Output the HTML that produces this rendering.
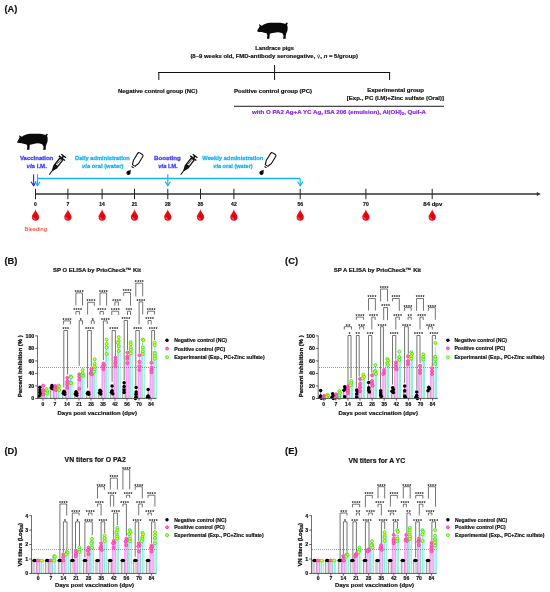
<!DOCTYPE html>
<html lang="en"><head><meta charset="utf-8"><title>Figure</title>
<style>html,body{margin:0;padding:0;background:#fff;}body{overflow:hidden;}svg{display:block;}text{font-family:"Liberation Sans", Arial, sans-serif;}</style></head><body>
<svg width="550" height="592" viewBox="0 0 550 592">
<defs><radialGradient id="bd" cx="0.55" cy="0.62" r="0.6"><stop offset="0" stop-color="#c8000e"/><stop offset="0.55" stop-color="#ee0a14"/><stop offset="1" stop-color="#ff1c1c"/></radialGradient></defs>
<rect width="550" height="592" fill="#fff"/>
<text x="4.50" y="12.20" font-size="9.3" font-weight="bold" text-anchor="start" fill="#111" stroke="#111" stroke-width="0.18" >(A)</text>
<path d="M0,25.4 L4,19 L7.5,13 L5.4,5.2 L10,8 L15,10.7 C19,8 23,5.8 26.9,4.3 C32,2 37,1 41.8,0.9 L74.6,0.9 C81,1.2 87,3 91,5.2 L95.5,0.6 L100,2.3 L97,8 C98.5,10 99,12 99,14.4 C99.6,18 99.2,22 98.5,26 C98,29 96.8,31 95.5,33.2 L93,41.9 L93,52 L84,52 L86,43.3 L82,34.7 C77,32.5 71,31.4 65.7,31.2 C59,31.5 52,33 46.3,34.7 L40.9,36.1 L39.4,52 L31.3,52 L32.8,41.9 L30.7,34.7 C25,33.8 20,32.3 14.9,30.9 L6,30.3 L0.6,29.5 Z" fill="#0a0a0a" transform="translate(257.3,22.4) scale(0.3060,0.3135)"/>
<text x="255.30" y="49.72" font-size="5.9" font-weight="bold" text-anchor="start" fill="#111" stroke="#111" stroke-width="0.18" textLength="38.70" lengthAdjust="spacingAndGlyphs" >Landrace pigs</text>
<text x="190.40" y="58.02" font-size="5.9" font-weight="bold" text-anchor="start" fill="#111" stroke="#111" stroke-width="0.18" textLength="167.50" lengthAdjust="spacingAndGlyphs" >(8–9 weeks old, FMD-antibody seronegative, <tspan font-family="DejaVu Sans, sans-serif" font-size="4.6" font-weight="normal" stroke-width="0.1">♀</tspan>, <tspan font-style="italic">n</tspan> = 5/group)</text>
<line x1="274.60" y1="65.00" x2="274.60" y2="80.00" stroke="#111" stroke-width="1.0" />
<line x1="158.30" y1="72.50" x2="390.10" y2="72.50" stroke="#111" stroke-width="1.0" />
<line x1="158.80" y1="72.00" x2="158.80" y2="80.00" stroke="#111" stroke-width="1.0" />
<line x1="389.60" y1="72.00" x2="389.60" y2="80.00" stroke="#111" stroke-width="1.0" />
<text x="118.00" y="93.42" font-size="5.9" font-weight="bold" text-anchor="start" fill="#111" stroke="#111" stroke-width="0.18" textLength="79.40" lengthAdjust="spacingAndGlyphs" >Negative control group (NC)</text>
<text x="234.00" y="93.12" font-size="5.9" font-weight="bold" text-anchor="start" fill="#111" stroke="#111" stroke-width="0.18" textLength="78.00" lengthAdjust="spacingAndGlyphs" >Positive control group (PC)</text>
<text x="367.20" y="92.12" font-size="5.9" font-weight="bold" text-anchor="start" fill="#111" stroke="#111" stroke-width="0.18" textLength="56.80" lengthAdjust="spacingAndGlyphs" >Experimental group</text>
<text x="346.80" y="100.22" font-size="5.9" font-weight="bold" text-anchor="start" fill="#111" stroke="#111" stroke-width="0.18" textLength="97.20" lengthAdjust="spacingAndGlyphs" >[Exp., PC (I.M)+Zinc sulfate (Oral)]</text>
<line x1="234.00" y1="106.30" x2="444.00" y2="106.30" stroke="#000" stroke-width="0.9" />
<text x="252.00" y="114.05" font-size="5.7" font-weight="bold" text-anchor="start" fill="#8a1cf0" stroke="#8a1cf0" stroke-width="0.18" textLength="174.00" lengthAdjust="spacingAndGlyphs" >with O PA2 Ag+A YC Ag, ISA 206 (emulsion), Al(OH)<tspan font-size="3.8" dy="1">3</tspan><tspan dy="-1">, Quil-A</tspan></text>
<path d="M0,25.4 L4,19 L7.5,13 L5.4,5.2 L10,8 L15,10.7 C19,8 23,5.8 26.9,4.3 C32,2 37,1 41.8,0.9 L74.6,0.9 C81,1.2 87,3 91,5.2 L95.5,0.6 L100,2.3 L97,8 C98.5,10 99,12 99,14.4 C99.6,18 99.2,22 98.5,26 C98,29 96.8,31 95.5,33.2 L93,41.9 L93,52 L84,52 L86,43.3 L82,34.7 C77,32.5 71,31.4 65.7,31.2 C59,31.5 52,33 46.3,34.7 L40.9,36.1 L39.4,52 L31.3,52 L32.8,41.9 L30.7,34.7 C25,33.8 20,32.3 14.9,30.9 L6,30.3 L0.6,29.5 Z" fill="#0a0a0a" transform="translate(17.3,133.5) scale(0.3060,0.3135)"/>
<text x="19.90" y="160.16" font-size="6.0" font-weight="bold" text-anchor="start" fill="#4040ff" stroke="#4040ff" stroke-width="0.28" textLength="33.40" lengthAdjust="spacingAndGlyphs" >Vaccination</text>
<text x="26.50" y="167.96" font-size="6.0" font-weight="bold" text-anchor="start" fill="#4040ff" stroke="#4040ff" stroke-width="0.28" textLength="20.40" lengthAdjust="spacingAndGlyphs" ><tspan font-style="italic">via</tspan> I.M.</text>
<g transform="translate(49.2,174.7) rotate(-52.3)" fill="#0a0a0a" stroke="none"><rect x="0" y="-0.5" width="7" height="1.0"/><path d="M5.2,-0.5 L9.6,-2.4 L9.6,2.4 L5.2,0.5 Z"/><rect x="9.4" y="-2.4" width="11" height="4.8" rx="0.3"/><rect x="12.2" y="-1.1" width="7.0" height="2.2" fill="#fff"/><rect x="13.2" y="-1.1" width="0.7" height="1.4"/><rect x="14.8" y="-1.1" width="0.7" height="1.4"/><rect x="16.4" y="-1.1" width="0.7" height="1.4"/><rect x="18.0" y="-1.1" width="0.7" height="1.4"/><rect x="20.2" y="-3.8" width="1.3" height="7.6"/><rect x="21.3" y="-0.85" width="2" height="1.7"/><rect x="23.0" y="-2.9" width="1.35" height="5.8"/></g>
<text x="75.00" y="160.16" font-size="6.0" font-weight="bold" text-anchor="start" fill="#16b4f2" stroke="#16b4f2" stroke-width="0.28" textLength="54.80" lengthAdjust="spacingAndGlyphs" >Daily administration</text>
<text x="82.00" y="167.96" font-size="6.0" font-weight="bold" text-anchor="start" fill="#16b4f2" stroke="#16b4f2" stroke-width="0.28" textLength="41.40" lengthAdjust="spacingAndGlyphs" ><tspan font-style="italic">via</tspan> oral (water)</text>
<g transform="translate(133.7,165.5) rotate(-58)" fill="#fff" stroke="#0a0a0a" stroke-width="1.05" stroke-linejoin="round"><path d="M0,-1.6 L0.3,-1.7 C2,-1.9 3.5,-3 4.6,-3 L12.4,-3 Q13.9,-3 13.9,-1.5 L13.9,1.5 Q13.9,3 12.4,3 L4.6,3 C3.5,3 2,1.9 0.3,1.7 L0,1.6 Z"/><rect x="-2.5" y="-1.3" width="1.0" height="2.6" fill="#0a0a0a" stroke="none"/></g>
<g transform="translate(128.8,172.4) rotate(38)"><path d="M0,-3.4 C0.4,-1.8 2.1,-1.0 2.1,0.5 A2.1,2.1 0 1 1 -2.1,0.5 C-2.1,-1.0 -0.4,-1.8 0,-3.4 Z" fill="#0a0a0a"/></g>
<text x="154.00" y="160.16" font-size="6.0" font-weight="bold" text-anchor="start" fill="#4040ff" stroke="#4040ff" stroke-width="0.28" textLength="26.70" lengthAdjust="spacingAndGlyphs" >Boosting</text>
<text x="158.30" y="167.96" font-size="6.0" font-weight="bold" text-anchor="start" fill="#4040ff" stroke="#4040ff" stroke-width="0.28" textLength="19.40" lengthAdjust="spacingAndGlyphs" ><tspan font-style="italic">via</tspan> I.M.</text>
<g transform="translate(180.6,174.7) rotate(-52.3)" fill="#0a0a0a" stroke="none"><rect x="0" y="-0.5" width="7" height="1.0"/><path d="M5.2,-0.5 L9.6,-2.4 L9.6,2.4 L5.2,0.5 Z"/><rect x="9.4" y="-2.4" width="11" height="4.8" rx="0.3"/><rect x="12.2" y="-1.1" width="7.0" height="2.2" fill="#fff"/><rect x="13.2" y="-1.1" width="0.7" height="1.4"/><rect x="14.8" y="-1.1" width="0.7" height="1.4"/><rect x="16.4" y="-1.1" width="0.7" height="1.4"/><rect x="18.0" y="-1.1" width="0.7" height="1.4"/><rect x="20.2" y="-3.8" width="1.3" height="7.6"/><rect x="21.3" y="-0.85" width="2" height="1.7"/><rect x="23.0" y="-2.9" width="1.35" height="5.8"/></g>
<text x="202.30" y="160.16" font-size="6.0" font-weight="bold" text-anchor="start" fill="#16b4f2" stroke="#16b4f2" stroke-width="0.28" textLength="61.10" lengthAdjust="spacingAndGlyphs" >Weekly administration</text>
<text x="213.30" y="167.96" font-size="6.0" font-weight="bold" text-anchor="start" fill="#16b4f2" stroke="#16b4f2" stroke-width="0.28" textLength="39.40" lengthAdjust="spacingAndGlyphs" ><tspan font-style="italic">via</tspan> oral (water)</text>
<g transform="translate(266.6,165.5) rotate(-58)" fill="#fff" stroke="#0a0a0a" stroke-width="1.05" stroke-linejoin="round"><path d="M0,-1.6 L0.3,-1.7 C2,-1.9 3.5,-3 4.6,-3 L12.4,-3 Q13.9,-3 13.9,-1.5 L13.9,1.5 Q13.9,3 12.4,3 L4.6,3 C3.5,3 2,1.9 0.3,1.7 L0,1.6 Z"/><rect x="-2.5" y="-1.3" width="1.0" height="2.6" fill="#0a0a0a" stroke="none"/></g>
<g transform="translate(261.8,172.4) rotate(38)"><path d="M0,-3.4 C0.4,-1.8 2.1,-1.0 2.1,0.5 A2.1,2.1 0 1 1 -2.1,0.5 C-2.1,-1.0 -0.4,-1.8 0,-3.4 Z" fill="#0a0a0a"/></g>
<line x1="33.60" y1="174.20" x2="33.60" y2="186.00" stroke="#2a2aff" stroke-width="1.15" />
<path d="M31.30,182.10 L33.60,185.70 L35.90,182.10" fill="none" stroke="#2a2aff" stroke-width="1.15" stroke-linecap="round"/>
<line x1="37.50" y1="174.20" x2="37.50" y2="186.00" stroke="#16b4f2" stroke-width="1.15" />
<path d="M35.20,182.10 L37.50,185.70 L39.80,182.10" fill="none" stroke="#16b4f2" stroke-width="1.15" stroke-linecap="round"/>
<line x1="37.50" y1="178.40" x2="300.20" y2="178.40" stroke="#16b4f2" stroke-width="1.5" />
<line x1="167.80" y1="174.20" x2="167.80" y2="186.00" stroke="#16b4f2" stroke-width="1.15" />
<path d="M165.50,182.10 L167.80,185.70 L170.10,182.10" fill="none" stroke="#16b4f2" stroke-width="1.15" stroke-linecap="round"/>
<line x1="300.20" y1="178.40" x2="300.20" y2="186.00" stroke="#16b4f2" stroke-width="1.15" />
<path d="M297.90,182.10 L300.20,185.70 L302.50,182.10" fill="none" stroke="#16b4f2" stroke-width="1.15" stroke-linecap="round"/>
<line x1="35.00" y1="194.00" x2="537.50" y2="194.00" stroke="#333" stroke-width="1.4" />
<path d="M540.8,194.0 L536.8,192.1 L536.8,195.9 Z" fill="#333"/>
<line x1="35.50" y1="188.80" x2="35.50" y2="199.20" stroke="#222" stroke-width="1.0" />
<text x="35.50" y="206.20" font-size="5.0" font-weight="bold" text-anchor="middle" fill="#111" stroke="#111" stroke-width="0.18" >0</text>
<path d="M35.50,209.10 C36.00,212.58 39.15,214.49 39.15,217.05 A3.65,3.65 0 1 1 31.85,217.05 C31.85,214.49 35.00,212.58 35.50,209.10 Z" fill="url(#bd)"/>
<path d="M33.49,217.25 Q33.67,219.06 35.50,219.24" fill="none" stroke="#fff" stroke-width="0.5" opacity="0.8"/>
<line x1="67.90" y1="188.80" x2="67.90" y2="199.20" stroke="#222" stroke-width="1.0" />
<text x="67.90" y="206.20" font-size="5.0" font-weight="bold" text-anchor="middle" fill="#111" stroke="#111" stroke-width="0.18" >7</text>
<path d="M67.90,209.10 C68.40,212.58 71.55,214.49 71.55,217.05 A3.65,3.65 0 1 1 64.25,217.05 C64.25,214.49 67.40,212.58 67.90,209.10 Z" fill="url(#bd)"/>
<path d="M65.89,217.25 Q66.08,219.06 67.90,219.24" fill="none" stroke="#fff" stroke-width="0.5" opacity="0.8"/>
<line x1="102.10" y1="188.80" x2="102.10" y2="199.20" stroke="#222" stroke-width="1.0" />
<text x="102.10" y="206.20" font-size="5.0" font-weight="bold" text-anchor="middle" fill="#111" stroke="#111" stroke-width="0.18" >14</text>
<path d="M102.10,209.10 C102.60,212.58 105.75,214.49 105.75,217.05 A3.65,3.65 0 1 1 98.45,217.05 C98.45,214.49 101.60,212.58 102.10,209.10 Z" fill="url(#bd)"/>
<path d="M100.09,217.25 Q100.27,219.06 102.10,219.24" fill="none" stroke="#fff" stroke-width="0.5" opacity="0.8"/>
<line x1="134.50" y1="188.80" x2="134.50" y2="199.20" stroke="#222" stroke-width="1.0" />
<text x="134.50" y="206.20" font-size="5.0" font-weight="bold" text-anchor="middle" fill="#111" stroke="#111" stroke-width="0.18" >21</text>
<path d="M134.50,209.10 C135.00,212.58 138.15,214.49 138.15,217.05 A3.65,3.65 0 1 1 130.85,217.05 C130.85,214.49 134.00,212.58 134.50,209.10 Z" fill="url(#bd)"/>
<path d="M132.49,217.25 Q132.68,219.06 134.50,219.24" fill="none" stroke="#fff" stroke-width="0.5" opacity="0.8"/>
<line x1="167.80" y1="188.80" x2="167.80" y2="199.20" stroke="#222" stroke-width="1.0" />
<text x="167.80" y="206.20" font-size="5.0" font-weight="bold" text-anchor="middle" fill="#111" stroke="#111" stroke-width="0.18" >28</text>
<path d="M167.80,209.10 C168.30,212.58 171.45,214.49 171.45,217.05 A3.65,3.65 0 1 1 164.15,217.05 C164.15,214.49 167.30,212.58 167.80,209.10 Z" fill="url(#bd)"/>
<path d="M165.79,217.25 Q165.98,219.06 167.80,219.24" fill="none" stroke="#fff" stroke-width="0.5" opacity="0.8"/>
<line x1="200.50" y1="188.80" x2="200.50" y2="199.20" stroke="#222" stroke-width="1.0" />
<text x="200.50" y="206.20" font-size="5.0" font-weight="bold" text-anchor="middle" fill="#111" stroke="#111" stroke-width="0.18" >35</text>
<path d="M200.50,209.10 C201.00,212.58 204.15,214.49 204.15,217.05 A3.65,3.65 0 1 1 196.85,217.05 C196.85,214.49 200.00,212.58 200.50,209.10 Z" fill="url(#bd)"/>
<path d="M198.49,217.25 Q198.68,219.06 200.50,219.24" fill="none" stroke="#fff" stroke-width="0.5" opacity="0.8"/>
<line x1="233.90" y1="188.80" x2="233.90" y2="199.20" stroke="#222" stroke-width="1.0" />
<text x="233.90" y="206.20" font-size="5.0" font-weight="bold" text-anchor="middle" fill="#111" stroke="#111" stroke-width="0.18" >42</text>
<path d="M233.90,209.10 C234.40,212.58 237.55,214.49 237.55,217.05 A3.65,3.65 0 1 1 230.25,217.05 C230.25,214.49 233.40,212.58 233.90,209.10 Z" fill="url(#bd)"/>
<path d="M231.89,217.25 Q232.08,219.06 233.90,219.24" fill="none" stroke="#fff" stroke-width="0.5" opacity="0.8"/>
<line x1="300.20" y1="188.80" x2="300.20" y2="199.20" stroke="#222" stroke-width="1.0" />
<text x="300.20" y="206.20" font-size="5.0" font-weight="bold" text-anchor="middle" fill="#111" stroke="#111" stroke-width="0.18" >56</text>
<path d="M300.20,209.10 C300.70,212.58 303.85,214.49 303.85,217.05 A3.65,3.65 0 1 1 296.55,217.05 C296.55,214.49 299.70,212.58 300.20,209.10 Z" fill="url(#bd)"/>
<path d="M298.19,217.25 Q298.38,219.06 300.20,219.24" fill="none" stroke="#fff" stroke-width="0.5" opacity="0.8"/>
<line x1="365.90" y1="188.80" x2="365.90" y2="199.20" stroke="#222" stroke-width="1.0" />
<text x="365.90" y="206.20" font-size="5.0" font-weight="bold" text-anchor="middle" fill="#111" stroke="#111" stroke-width="0.18" >70</text>
<path d="M365.90,209.10 C366.40,212.58 369.55,214.49 369.55,217.05 A3.65,3.65 0 1 1 362.25,217.05 C362.25,214.49 365.40,212.58 365.90,209.10 Z" fill="url(#bd)"/>
<path d="M363.89,217.25 Q364.07,219.06 365.90,219.24" fill="none" stroke="#fff" stroke-width="0.5" opacity="0.8"/>
<line x1="432.20" y1="188.80" x2="432.20" y2="199.20" stroke="#222" stroke-width="1.0" />
<text x="423.30" y="206.20" font-size="5.2" font-weight="bold" text-anchor="start" fill="#111" stroke="#111" stroke-width="0.18" textLength="19.00" lengthAdjust="spacingAndGlyphs" >84 dpv</text>
<path d="M432.20,209.10 C432.70,212.58 435.85,214.49 435.85,217.05 A3.65,3.65 0 1 1 428.55,217.05 C428.55,214.49 431.70,212.58 432.20,209.10 Z" fill="url(#bd)"/>
<path d="M430.19,217.25 Q430.38,219.06 432.20,219.24" fill="none" stroke="#fff" stroke-width="0.5" opacity="0.8"/>
<text x="24.60" y="231.05" font-size="5.7" font-weight="normal" text-anchor="start" fill="#ff3b30" stroke="#ff3b30" stroke-width="0.05" textLength="22.40" lengthAdjust="spacingAndGlyphs" >Bleeding</text>
<text x="4.50" y="263.90" font-size="9.3" font-weight="bold" text-anchor="start" fill="#111" stroke="#111" stroke-width="0.18" >(B)</text>
<text x="53.00" y="271.72" font-size="5.9" font-weight="bold" text-anchor="start" fill="#111" stroke="#111" stroke-width="0.18" textLength="88.00" lengthAdjust="spacingAndGlyphs" >SP O ELISA by PrioCheck™ Kit</text>
<rect x="38.45" y="391.81" width="2.90" height="6.64" fill="#f7f7f7" stroke="#505050" stroke-width="0.5"/>
<line x1="39.90" y1="392.11" x2="39.90" y2="398.45" stroke="#9a9a9a" stroke-width="0.4" />
<line x1="39.90" y1="388.34" x2="39.90" y2="391.81" stroke="#000" stroke-width="0.5" />
<rect x="41.75" y="390.69" width="2.90" height="7.76" fill="#f7aef3" stroke="#f272ec" stroke-width="0.5"/>
<line x1="43.60" y1="390.99" x2="43.60" y2="398.45" stroke="#fbd9f9" stroke-width="0.7" />
<line x1="43.20" y1="386.81" x2="43.20" y2="390.69" stroke="#ff2fd0" stroke-width="0.5" />
<rect x="45.05" y="391.56" width="2.90" height="6.89" fill="#eefcf8" stroke="#3fddb9" stroke-width="0.5"/>
<line x1="46.50" y1="391.86" x2="46.50" y2="398.45" stroke="#3fddb9" stroke-width="0.6" />
<line x1="46.50" y1="389.58" x2="46.50" y2="391.56" stroke="#28dc46" stroke-width="0.5" />
<rect x="50.48" y="387.29" width="2.90" height="11.16" fill="#f7f7f7" stroke="#505050" stroke-width="0.5"/>
<line x1="51.93" y1="387.59" x2="51.93" y2="398.45" stroke="#9a9a9a" stroke-width="0.4" />
<line x1="51.93" y1="385.91" x2="51.93" y2="387.29" stroke="#000" stroke-width="0.5" />
<rect x="53.78" y="388.06" width="2.90" height="10.39" fill="#f7aef3" stroke="#f272ec" stroke-width="0.5"/>
<line x1="55.63" y1="388.36" x2="55.63" y2="398.45" stroke="#fbd9f9" stroke-width="0.7" />
<line x1="55.23" y1="386.29" x2="55.23" y2="388.06" stroke="#ff2fd0" stroke-width="0.5" />
<rect x="57.08" y="387.90" width="2.90" height="10.55" fill="#eefcf8" stroke="#3fddb9" stroke-width="0.5"/>
<line x1="58.53" y1="388.20" x2="58.53" y2="398.45" stroke="#3fddb9" stroke-width="0.6" />
<line x1="58.53" y1="385.75" x2="58.53" y2="387.90" stroke="#28dc46" stroke-width="0.5" />
<rect x="62.51" y="392.75" width="2.90" height="5.70" fill="#f7f7f7" stroke="#505050" stroke-width="0.5"/>
<line x1="63.96" y1="393.05" x2="63.96" y2="398.45" stroke="#9a9a9a" stroke-width="0.4" />
<line x1="63.96" y1="391.55" x2="63.96" y2="392.75" stroke="#000" stroke-width="0.5" />
<rect x="65.81" y="382.77" width="2.90" height="15.68" fill="#f7aef3" stroke="#f272ec" stroke-width="0.5"/>
<line x1="67.66" y1="383.07" x2="67.66" y2="398.45" stroke="#fbd9f9" stroke-width="0.7" />
<line x1="67.26" y1="378.53" x2="67.26" y2="382.77" stroke="#ff2fd0" stroke-width="0.5" />
<rect x="69.11" y="379.89" width="2.90" height="18.56" fill="#eefcf8" stroke="#3fddb9" stroke-width="0.5"/>
<line x1="70.56" y1="380.19" x2="70.56" y2="398.45" stroke="#3fddb9" stroke-width="0.6" />
<line x1="70.56" y1="376.22" x2="70.56" y2="379.89" stroke="#28dc46" stroke-width="0.5" />
<rect x="74.54" y="393.58" width="2.90" height="4.87" fill="#f7f7f7" stroke="#505050" stroke-width="0.5"/>
<line x1="75.99" y1="393.88" x2="75.99" y2="398.45" stroke="#9a9a9a" stroke-width="0.4" />
<line x1="75.99" y1="392.10" x2="75.99" y2="393.58" stroke="#000" stroke-width="0.5" />
<rect x="77.84" y="379.81" width="2.90" height="18.64" fill="#f7aef3" stroke="#f272ec" stroke-width="0.5"/>
<line x1="79.69" y1="380.11" x2="79.69" y2="398.45" stroke="#fbd9f9" stroke-width="0.7" />
<line x1="79.29" y1="373.52" x2="79.29" y2="379.81" stroke="#ff2fd0" stroke-width="0.5" />
<rect x="81.14" y="373.58" width="2.90" height="24.87" fill="#eefcf8" stroke="#3fddb9" stroke-width="0.5"/>
<line x1="82.59" y1="373.88" x2="82.59" y2="398.45" stroke="#3fddb9" stroke-width="0.6" />
<line x1="82.59" y1="370.95" x2="82.59" y2="373.58" stroke="#28dc46" stroke-width="0.5" />
<rect x="86.57" y="393.14" width="2.90" height="5.31" fill="#f7f7f7" stroke="#505050" stroke-width="0.5"/>
<line x1="88.02" y1="393.44" x2="88.02" y2="398.45" stroke="#9a9a9a" stroke-width="0.4" />
<line x1="88.02" y1="392.31" x2="88.02" y2="393.14" stroke="#000" stroke-width="0.5" />
<rect x="89.87" y="372.27" width="2.90" height="26.18" fill="#f7aef3" stroke="#f272ec" stroke-width="0.5"/>
<line x1="91.72" y1="372.57" x2="91.72" y2="398.45" stroke="#fbd9f9" stroke-width="0.7" />
<line x1="91.32" y1="370.08" x2="91.32" y2="372.27" stroke="#ff2fd0" stroke-width="0.5" />
<rect x="93.17" y="366.22" width="2.90" height="32.23" fill="#eefcf8" stroke="#3fddb9" stroke-width="0.5"/>
<line x1="94.62" y1="366.52" x2="94.62" y2="398.45" stroke="#3fddb9" stroke-width="0.6" />
<line x1="94.62" y1="361.25" x2="94.62" y2="366.22" stroke="#28dc46" stroke-width="0.5" />
<rect x="98.60" y="392.19" width="2.90" height="6.26" fill="#f7f7f7" stroke="#505050" stroke-width="0.5"/>
<line x1="100.05" y1="392.49" x2="100.05" y2="398.45" stroke="#9a9a9a" stroke-width="0.4" />
<line x1="100.05" y1="390.57" x2="100.05" y2="392.19" stroke="#000" stroke-width="0.5" />
<rect x="101.90" y="366.10" width="2.90" height="32.35" fill="#f7aef3" stroke="#f272ec" stroke-width="0.5"/>
<line x1="103.75" y1="366.40" x2="103.75" y2="398.45" stroke="#fbd9f9" stroke-width="0.7" />
<line x1="103.35" y1="363.61" x2="103.35" y2="366.10" stroke="#ff2fd0" stroke-width="0.5" />
<rect x="105.20" y="346.18" width="2.90" height="52.27" fill="#eefcf8" stroke="#3fddb9" stroke-width="0.5"/>
<line x1="106.65" y1="346.48" x2="106.65" y2="398.45" stroke="#3fddb9" stroke-width="0.6" />
<line x1="106.65" y1="340.02" x2="106.65" y2="346.18" stroke="#28dc46" stroke-width="0.5" />
<rect x="110.63" y="390.61" width="2.90" height="7.84" fill="#f7f7f7" stroke="#505050" stroke-width="0.5"/>
<line x1="112.08" y1="390.91" x2="112.08" y2="398.45" stroke="#9a9a9a" stroke-width="0.4" />
<line x1="112.08" y1="387.27" x2="112.08" y2="390.61" stroke="#000" stroke-width="0.5" />
<rect x="113.93" y="361.86" width="2.90" height="36.59" fill="#f7aef3" stroke="#f272ec" stroke-width="0.5"/>
<line x1="115.78" y1="362.16" x2="115.78" y2="398.45" stroke="#fbd9f9" stroke-width="0.7" />
<line x1="115.38" y1="358.07" x2="115.38" y2="361.86" stroke="#ff2fd0" stroke-width="0.5" />
<rect x="117.23" y="343.59" width="2.90" height="54.86" fill="#eefcf8" stroke="#3fddb9" stroke-width="0.5"/>
<line x1="118.68" y1="343.89" x2="118.68" y2="398.45" stroke="#3fddb9" stroke-width="0.6" />
<line x1="118.68" y1="338.29" x2="118.68" y2="343.59" stroke="#28dc46" stroke-width="0.5" />
<rect x="122.66" y="387.95" width="2.90" height="10.50" fill="#f7f7f7" stroke="#505050" stroke-width="0.5"/>
<line x1="124.11" y1="388.25" x2="124.11" y2="398.45" stroke="#9a9a9a" stroke-width="0.4" />
<line x1="124.11" y1="383.72" x2="124.11" y2="387.95" stroke="#000" stroke-width="0.5" />
<rect x="125.96" y="357.63" width="2.90" height="40.82" fill="#f7aef3" stroke="#f272ec" stroke-width="0.5"/>
<line x1="127.81" y1="357.93" x2="127.81" y2="398.45" stroke="#fbd9f9" stroke-width="0.7" />
<line x1="127.41" y1="353.18" x2="127.41" y2="357.63" stroke="#ff2fd0" stroke-width="0.5" />
<rect x="129.26" y="347.44" width="2.90" height="51.01" fill="#eefcf8" stroke="#3fddb9" stroke-width="0.5"/>
<line x1="130.71" y1="347.74" x2="130.71" y2="398.45" stroke="#3fddb9" stroke-width="0.6" />
<line x1="130.71" y1="343.03" x2="130.71" y2="347.44" stroke="#28dc46" stroke-width="0.5" />
<rect x="134.69" y="393.84" width="2.90" height="4.61" fill="#f7f7f7" stroke="#505050" stroke-width="0.5"/>
<line x1="136.14" y1="394.14" x2="136.14" y2="398.45" stroke="#9a9a9a" stroke-width="0.4" />
<line x1="136.14" y1="389.46" x2="136.14" y2="393.84" stroke="#000" stroke-width="0.5" />
<rect x="137.99" y="363.28" width="2.90" height="35.17" fill="#f7aef3" stroke="#f272ec" stroke-width="0.5"/>
<line x1="139.84" y1="363.58" x2="139.84" y2="398.45" stroke="#fbd9f9" stroke-width="0.7" />
<line x1="139.44" y1="356.87" x2="139.44" y2="363.28" stroke="#ff2fd0" stroke-width="0.5" />
<rect x="141.29" y="346.53" width="2.90" height="51.92" fill="#eefcf8" stroke="#3fddb9" stroke-width="0.5"/>
<line x1="142.74" y1="346.83" x2="142.74" y2="398.45" stroke="#3fddb9" stroke-width="0.6" />
<line x1="142.74" y1="339.97" x2="142.74" y2="346.53" stroke="#28dc46" stroke-width="0.5" />
<rect x="146.72" y="395.13" width="2.90" height="3.32" fill="#f7f7f7" stroke="#505050" stroke-width="0.5"/>
<line x1="148.17" y1="395.43" x2="148.17" y2="398.45" stroke="#9a9a9a" stroke-width="0.4" />
<line x1="148.17" y1="391.30" x2="148.17" y2="395.13" stroke="#000" stroke-width="0.5" />
<rect x="150.02" y="368.17" width="2.90" height="30.28" fill="#f7aef3" stroke="#f272ec" stroke-width="0.5"/>
<line x1="151.87" y1="368.47" x2="151.87" y2="398.45" stroke="#fbd9f9" stroke-width="0.7" />
<line x1="151.47" y1="364.13" x2="151.47" y2="368.17" stroke="#ff2fd0" stroke-width="0.5" />
<rect x="153.32" y="351.24" width="2.90" height="47.21" fill="#eefcf8" stroke="#3fddb9" stroke-width="0.5"/>
<line x1="154.77" y1="351.54" x2="154.77" y2="398.45" stroke="#3fddb9" stroke-width="0.6" />
<line x1="154.77" y1="344.20" x2="154.77" y2="351.24" stroke="#28dc46" stroke-width="0.5" />
<line x1="38.00" y1="367.50" x2="156.50" y2="367.50" stroke="#707070" stroke-width="0.7" stroke-dasharray="1 1"/>
<path d="M63.80,387.50 L63.80,330.50 L67.60,330.50 L67.60,374.60" fill="none" stroke="#2a2a2a" stroke-width="0.65"/>
<text x="62.40" y="331" font-size="5.0" font-weight="bold" fill="#111" textLength="6.60" lengthAdjust="spacing">***</text>
<path d="M63.60,324.50 L63.60,320.90 L70.40,320.90 L70.40,324.50" fill="none" stroke="#2a2a2a" stroke-width="0.65"/>
<text x="62.60" y="322" font-size="5.0" font-weight="bold" fill="#111" textLength="8.80" lengthAdjust="spacing">****</text>
<path d="M79.20,366.00 L79.20,320.70 L82.50,320.70 L82.50,324.50" fill="none" stroke="#2a2a2a" stroke-width="0.65"/>
<text x="79.75" y="322" font-size="5.0" font-weight="bold" fill="#111" textLength="2.20" lengthAdjust="spacing">*</text>
<path d="M75.90,314.60 L75.90,311.50 L79.40,311.50 L79.40,314.60" fill="none" stroke="#2a2a2a" stroke-width="0.65"/>
<text x="73.25" y="312" font-size="5.0" font-weight="bold" fill="#111" textLength="8.80" lengthAdjust="spacing">****</text>
<path d="M75.90,305.50 L75.90,292.90 L82.50,292.90 L82.50,305.50" fill="none" stroke="#2a2a2a" stroke-width="0.65"/>
<text x="74.80" y="294" font-size="5.0" font-weight="bold" fill="#111" textLength="8.80" lengthAdjust="spacing">****</text>
<path d="M87.60,388.20 L87.60,330.50 L91.30,330.50 L91.30,366.70" fill="none" stroke="#2a2a2a" stroke-width="0.65"/>
<text x="85.05" y="331" font-size="5.0" font-weight="bold" fill="#111" textLength="8.80" lengthAdjust="spacing">****</text>
<path d="M91.30,324.00 L91.30,320.70 L94.20,320.70 L94.20,324.00" fill="none" stroke="#2a2a2a" stroke-width="0.65"/>
<text x="91.65" y="322" font-size="5.0" font-weight="bold" fill="#111" textLength="2.20" lengthAdjust="spacing">*</text>
<path d="M87.60,314.60 L87.60,302.30 L94.30,302.30 L94.30,305.80" fill="none" stroke="#2a2a2a" stroke-width="0.65"/>
<text x="86.55" y="303" font-size="5.0" font-weight="bold" fill="#111" textLength="8.80" lengthAdjust="spacing">****</text>
<path d="M103.40,360.20 L103.40,320.90 L107.20,320.90 L107.20,324.00" fill="none" stroke="#2a2a2a" stroke-width="0.65"/>
<text x="100.90" y="322" font-size="5.0" font-weight="bold" fill="#111" textLength="8.80" lengthAdjust="spacing">****</text>
<path d="M100.00,314.60 L100.00,311.50 L103.40,311.50 L103.40,314.60" fill="none" stroke="#2a2a2a" stroke-width="0.65"/>
<text x="97.30" y="312" font-size="5.0" font-weight="bold" fill="#111" textLength="8.80" lengthAdjust="spacing">****</text>
<path d="M100.00,305.50 L100.00,292.90 L106.60,292.90 L106.60,305.50" fill="none" stroke="#2a2a2a" stroke-width="0.65"/>
<text x="98.90" y="294" font-size="5.0" font-weight="bold" fill="#111" textLength="8.80" lengthAdjust="spacing">****</text>
<path d="M112.10,381.80 L112.10,330.50 L115.40,330.50 L115.40,355.90" fill="none" stroke="#2a2a2a" stroke-width="0.65"/>
<text x="109.35" y="331" font-size="5.0" font-weight="bold" fill="#111" textLength="8.80" lengthAdjust="spacing">****</text>
<path d="M111.80,315.00 L111.80,311.20 L118.70,311.20 L118.70,315.00" fill="none" stroke="#2a2a2a" stroke-width="0.65"/>
<text x="110.85" y="312" font-size="5.0" font-weight="bold" fill="#111" textLength="8.80" lengthAdjust="spacing">****</text>
<path d="M114.90,305.70 L114.90,301.90 L118.40,301.90 L118.40,305.70" fill="none" stroke="#2a2a2a" stroke-width="0.65"/>
<text x="112.25" y="303" font-size="5.0" font-weight="bold" fill="#111" textLength="8.80" lengthAdjust="spacing">****</text>
<path d="M124.20,380.30 L124.20,320.50 L127.50,320.50 L127.50,350.00" fill="none" stroke="#2a2a2a" stroke-width="0.65"/>
<text x="121.45" y="321" font-size="5.0" font-weight="bold" fill="#111" textLength="8.80" lengthAdjust="spacing">****</text>
<path d="M127.50,315.00 L127.50,311.20 L130.50,311.20 L130.50,315.00" fill="none" stroke="#2a2a2a" stroke-width="0.65"/>
<text x="125.70" y="312" font-size="5.0" font-weight="bold" fill="#111" textLength="6.60" lengthAdjust="spacing">***</text>
<path d="M123.70,295.80 L123.70,292.50 L130.50,292.50 L130.50,305.70" fill="none" stroke="#2a2a2a" stroke-width="0.65"/>
<text x="122.70" y="293" font-size="5.0" font-weight="bold" fill="#111" textLength="8.80" lengthAdjust="spacing">****</text>
<path d="M135.80,386.00 L135.80,330.50 L139.30,330.50 L139.30,353.00" fill="none" stroke="#2a2a2a" stroke-width="0.65"/>
<text x="133.15" y="331" font-size="5.0" font-weight="bold" fill="#111" textLength="8.80" lengthAdjust="spacing">****</text>
<path d="M139.10,324.40 L139.10,301.90 L142.70,301.90 L142.70,314.50" fill="none" stroke="#2a2a2a" stroke-width="0.65"/>
<text x="136.50" y="303" font-size="5.0" font-weight="bold" fill="#111" textLength="8.80" lengthAdjust="spacing">****</text>
<path d="M135.80,296.40 L135.80,283.20 L142.70,283.20 L142.70,296.40" fill="none" stroke="#2a2a2a" stroke-width="0.65"/>
<text x="134.85" y="284" font-size="5.0" font-weight="bold" fill="#111" textLength="8.80" lengthAdjust="spacing">****</text>
<path d="M151.70,361.00 L151.70,330.50 L154.50,330.50 L154.50,340.00" fill="none" stroke="#2a2a2a" stroke-width="0.65"/>
<text x="148.70" y="331" font-size="5.0" font-weight="bold" fill="#111" textLength="8.80" lengthAdjust="spacing">****</text>
<path d="M148.10,324.40 L148.10,320.50 L151.20,320.50 L151.20,324.40" fill="none" stroke="#2a2a2a" stroke-width="0.65"/>
<text x="145.25" y="321" font-size="5.0" font-weight="bold" fill="#111" textLength="8.80" lengthAdjust="spacing">****</text>
<path d="M147.60,314.50 L147.60,311.20 L154.50,311.20 L154.50,314.50" fill="none" stroke="#2a2a2a" stroke-width="0.65"/>
<text x="146.65" y="312" font-size="5.0" font-weight="bold" fill="#111" textLength="8.80" lengthAdjust="spacing">****</text>
<circle cx="39.90" cy="387.18" r="1.75" fill="#000"/>
<circle cx="39.90" cy="389.69" r="1.75" fill="#000"/>
<circle cx="39.90" cy="392.19" r="1.75" fill="#000"/>
<circle cx="40.60" cy="394.07" r="1.75" fill="#000"/>
<circle cx="39.20" cy="395.95" r="1.75" fill="#000"/>
<circle cx="43.20" cy="385.62" r="1.5" fill="#ff7a86" stroke="#ff2fd0" stroke-width="0.78"/>
<circle cx="43.20" cy="390.06" r="1.5" fill="#ff7a86" stroke="#ff2fd0" stroke-width="0.78"/>
<circle cx="43.20" cy="392.38" r="1.5" fill="#ff7a86" stroke="#ff2fd0" stroke-width="0.78"/>
<circle cx="43.20" cy="394.69" r="1.5" fill="#ff7a86" stroke="#ff2fd0" stroke-width="0.78"/>
<circle cx="46.50" cy="389.06" r="1.5" fill="#f6ff00" stroke="#28dc46" stroke-width="0.78"/>
<circle cx="47.20" cy="390.94" r="1.5" fill="#f6ff00" stroke="#28dc46" stroke-width="0.78"/>
<circle cx="45.80" cy="392.82" r="1.5" fill="#f6ff00" stroke="#28dc46" stroke-width="0.78"/>
<circle cx="47.20" cy="393.44" r="1.5" fill="#f6ff00" stroke="#28dc46" stroke-width="0.78"/>
<circle cx="51.93" cy="385.62" r="1.75" fill="#000"/>
<circle cx="52.63" cy="386.87" r="1.75" fill="#000"/>
<circle cx="51.23" cy="387.81" r="1.75" fill="#000"/>
<circle cx="52.63" cy="388.87" r="1.75" fill="#000"/>
<circle cx="55.23" cy="385.93" r="1.5" fill="#ff7a86" stroke="#ff2fd0" stroke-width="0.78"/>
<circle cx="55.93" cy="387.50" r="1.5" fill="#ff7a86" stroke="#ff2fd0" stroke-width="0.78"/>
<circle cx="54.53" cy="388.75" r="1.5" fill="#ff7a86" stroke="#ff2fd0" stroke-width="0.78"/>
<circle cx="55.93" cy="390.06" r="1.5" fill="#ff7a86" stroke="#ff2fd0" stroke-width="0.78"/>
<circle cx="58.53" cy="385.62" r="1.5" fill="#f6ff00" stroke="#28dc46" stroke-width="0.78"/>
<circle cx="59.23" cy="386.56" r="1.5" fill="#f6ff00" stroke="#28dc46" stroke-width="0.78"/>
<circle cx="58.53" cy="389.37" r="1.5" fill="#f6ff00" stroke="#28dc46" stroke-width="0.78"/>
<circle cx="59.23" cy="390.06" r="1.5" fill="#f6ff00" stroke="#28dc46" stroke-width="0.78"/>
<circle cx="63.96" cy="391.25" r="1.75" fill="#000"/>
<circle cx="64.66" cy="392.50" r="1.75" fill="#000"/>
<circle cx="63.26" cy="393.13" r="1.75" fill="#000"/>
<circle cx="64.66" cy="394.13" r="1.75" fill="#000"/>
<circle cx="67.26" cy="377.79" r="1.5" fill="#ff7a86" stroke="#ff2fd0" stroke-width="0.78"/>
<circle cx="67.26" cy="381.30" r="1.5" fill="#ff7a86" stroke="#ff2fd0" stroke-width="0.78"/>
<circle cx="67.26" cy="384.24" r="1.5" fill="#ff7a86" stroke="#ff2fd0" stroke-width="0.78"/>
<circle cx="67.26" cy="387.75" r="1.5" fill="#ff7a86" stroke="#ff2fd0" stroke-width="0.78"/>
<circle cx="70.56" cy="376.29" r="1.5" fill="#f6ff00" stroke="#28dc46" stroke-width="0.78"/>
<circle cx="71.26" cy="377.17" r="1.5" fill="#f6ff00" stroke="#28dc46" stroke-width="0.78"/>
<circle cx="70.56" cy="382.80" r="1.5" fill="#f6ff00" stroke="#28dc46" stroke-width="0.78"/>
<circle cx="71.26" cy="383.30" r="1.5" fill="#f6ff00" stroke="#28dc46" stroke-width="0.78"/>
<circle cx="75.99" cy="391.81" r="1.75" fill="#000"/>
<circle cx="76.69" cy="393.13" r="1.75" fill="#000"/>
<circle cx="75.29" cy="394.07" r="1.75" fill="#000"/>
<circle cx="76.69" cy="395.32" r="1.75" fill="#000"/>
<circle cx="79.29" cy="374.35" r="1.5" fill="#ff7a86" stroke="#ff2fd0" stroke-width="0.78"/>
<circle cx="79.29" cy="376.67" r="1.5" fill="#ff7a86" stroke="#ff2fd0" stroke-width="0.78"/>
<circle cx="79.29" cy="379.54" r="1.5" fill="#ff7a86" stroke="#ff2fd0" stroke-width="0.78"/>
<circle cx="79.29" cy="388.68" r="1.5" fill="#ff7a86" stroke="#ff2fd0" stroke-width="0.78"/>
<circle cx="82.59" cy="370.03" r="1.5" fill="#f6ff00" stroke="#28dc46" stroke-width="0.78"/>
<circle cx="82.59" cy="373.16" r="1.5" fill="#f6ff00" stroke="#28dc46" stroke-width="0.78"/>
<circle cx="81.89" cy="375.29" r="1.5" fill="#f6ff00" stroke="#28dc46" stroke-width="0.78"/>
<circle cx="83.29" cy="375.85" r="1.5" fill="#f6ff00" stroke="#28dc46" stroke-width="0.78"/>
<circle cx="88.02" cy="392.19" r="1.75" fill="#000"/>
<circle cx="88.72" cy="392.82" r="1.75" fill="#000"/>
<circle cx="87.32" cy="393.44" r="1.75" fill="#000"/>
<circle cx="88.72" cy="394.13" r="1.75" fill="#000"/>
<circle cx="91.32" cy="369.34" r="1.5" fill="#ff7a86" stroke="#ff2fd0" stroke-width="0.78"/>
<circle cx="91.32" cy="371.97" r="1.5" fill="#ff7a86" stroke="#ff2fd0" stroke-width="0.78"/>
<circle cx="90.62" cy="373.41" r="1.5" fill="#ff7a86" stroke="#ff2fd0" stroke-width="0.78"/>
<circle cx="92.02" cy="374.35" r="1.5" fill="#ff7a86" stroke="#ff2fd0" stroke-width="0.78"/>
<circle cx="94.62" cy="359.14" r="1.5" fill="#f6ff00" stroke="#28dc46" stroke-width="0.78"/>
<circle cx="94.62" cy="363.83" r="1.5" fill="#f6ff00" stroke="#28dc46" stroke-width="0.78"/>
<circle cx="94.62" cy="366.71" r="1.5" fill="#f6ff00" stroke="#28dc46" stroke-width="0.78"/>
<circle cx="94.62" cy="369.65" r="1.5" fill="#f6ff00" stroke="#28dc46" stroke-width="0.78"/>
<circle cx="93.92" cy="371.78" r="1.5" fill="#f6ff00" stroke="#28dc46" stroke-width="0.78"/>
<circle cx="100.05" cy="390.31" r="1.75" fill="#000"/>
<circle cx="100.75" cy="391.56" r="1.75" fill="#000"/>
<circle cx="99.35" cy="392.82" r="1.75" fill="#000"/>
<circle cx="100.75" cy="394.07" r="1.75" fill="#000"/>
<circle cx="103.35" cy="363.39" r="1.5" fill="#ff7a86" stroke="#ff2fd0" stroke-width="0.78"/>
<circle cx="104.05" cy="365.27" r="1.5" fill="#ff7a86" stroke="#ff2fd0" stroke-width="0.78"/>
<circle cx="102.65" cy="366.40" r="1.5" fill="#ff7a86" stroke="#ff2fd0" stroke-width="0.78"/>
<circle cx="103.35" cy="369.34" r="1.5" fill="#ff7a86" stroke="#ff2fd0" stroke-width="0.78"/>
<circle cx="106.65" cy="339.42" r="1.5" fill="#f6ff00" stroke="#28dc46" stroke-width="0.78"/>
<circle cx="106.65" cy="343.86" r="1.5" fill="#f6ff00" stroke="#28dc46" stroke-width="0.78"/>
<circle cx="106.65" cy="347.43" r="1.5" fill="#f6ff00" stroke="#28dc46" stroke-width="0.78"/>
<circle cx="106.65" cy="354.00" r="1.5" fill="#f6ff00" stroke="#28dc46" stroke-width="0.78"/>
<circle cx="112.08" cy="385.93" r="1.75" fill="#000"/>
<circle cx="112.08" cy="390.69" r="1.75" fill="#000"/>
<circle cx="111.38" cy="392.19" r="1.75" fill="#000"/>
<circle cx="112.78" cy="393.63" r="1.75" fill="#000"/>
<circle cx="115.38" cy="357.51" r="1.5" fill="#ff7a86" stroke="#ff2fd0" stroke-width="0.78"/>
<circle cx="115.38" cy="360.45" r="1.5" fill="#ff7a86" stroke="#ff2fd0" stroke-width="0.78"/>
<circle cx="115.38" cy="363.08" r="1.5" fill="#ff7a86" stroke="#ff2fd0" stroke-width="0.78"/>
<circle cx="115.38" cy="366.40" r="1.5" fill="#ff7a86" stroke="#ff2fd0" stroke-width="0.78"/>
<circle cx="118.68" cy="337.10" r="1.5" fill="#f6ff00" stroke="#28dc46" stroke-width="0.78"/>
<circle cx="118.68" cy="340.86" r="1.5" fill="#f6ff00" stroke="#28dc46" stroke-width="0.78"/>
<circle cx="117.98" cy="342.74" r="1.5" fill="#f6ff00" stroke="#28dc46" stroke-width="0.78"/>
<circle cx="118.68" cy="346.24" r="1.5" fill="#f6ff00" stroke="#28dc46" stroke-width="0.78"/>
<circle cx="118.68" cy="351.00" r="1.5" fill="#f6ff00" stroke="#28dc46" stroke-width="0.78"/>
<circle cx="124.11" cy="382.74" r="1.75" fill="#000"/>
<circle cx="124.11" cy="386.56" r="1.75" fill="#000"/>
<circle cx="124.11" cy="390.06" r="1.75" fill="#000"/>
<circle cx="124.11" cy="392.44" r="1.75" fill="#000"/>
<circle cx="127.41" cy="352.44" r="1.5" fill="#ff7a86" stroke="#ff2fd0" stroke-width="0.78"/>
<circle cx="127.41" cy="356.32" r="1.5" fill="#ff7a86" stroke="#ff2fd0" stroke-width="0.78"/>
<circle cx="127.41" cy="358.70" r="1.5" fill="#ff7a86" stroke="#ff2fd0" stroke-width="0.78"/>
<circle cx="127.41" cy="363.08" r="1.5" fill="#ff7a86" stroke="#ff2fd0" stroke-width="0.78"/>
<circle cx="130.71" cy="342.11" r="1.5" fill="#f6ff00" stroke="#28dc46" stroke-width="0.78"/>
<circle cx="130.71" cy="344.49" r="1.5" fill="#f6ff00" stroke="#28dc46" stroke-width="0.78"/>
<circle cx="130.71" cy="347.43" r="1.5" fill="#f6ff00" stroke="#28dc46" stroke-width="0.78"/>
<circle cx="130.71" cy="349.81" r="1.5" fill="#f6ff00" stroke="#28dc46" stroke-width="0.78"/>
<circle cx="130.71" cy="353.38" r="1.5" fill="#f6ff00" stroke="#28dc46" stroke-width="0.78"/>
<circle cx="136.14" cy="387.50" r="1.75" fill="#000"/>
<circle cx="136.14" cy="391.88" r="1.75" fill="#000"/>
<circle cx="136.14" cy="394.19" r="1.75" fill="#000"/>
<circle cx="136.14" cy="397.20" r="1.75" fill="#000"/>
<circle cx="135.44" cy="398.45" r="1.75" fill="#000"/>
<circle cx="139.44" cy="355.13" r="1.5" fill="#ff7a86" stroke="#ff2fd0" stroke-width="0.78"/>
<circle cx="139.44" cy="361.64" r="1.5" fill="#ff7a86" stroke="#ff2fd0" stroke-width="0.78"/>
<circle cx="139.44" cy="366.40" r="1.5" fill="#ff7a86" stroke="#ff2fd0" stroke-width="0.78"/>
<circle cx="139.44" cy="369.97" r="1.5" fill="#ff7a86" stroke="#ff2fd0" stroke-width="0.78"/>
<circle cx="142.74" cy="339.42" r="1.5" fill="#f6ff00" stroke="#28dc46" stroke-width="0.78"/>
<circle cx="143.44" cy="340.23" r="1.5" fill="#f6ff00" stroke="#28dc46" stroke-width="0.78"/>
<circle cx="142.74" cy="347.43" r="1.5" fill="#f6ff00" stroke="#28dc46" stroke-width="0.78"/>
<circle cx="142.74" cy="351.56" r="1.5" fill="#f6ff00" stroke="#28dc46" stroke-width="0.78"/>
<circle cx="142.74" cy="354.00" r="1.5" fill="#f6ff00" stroke="#28dc46" stroke-width="0.78"/>
<circle cx="148.17" cy="389.50" r="1.75" fill="#000"/>
<circle cx="148.17" cy="396.01" r="1.75" fill="#000"/>
<circle cx="147.47" cy="397.20" r="1.75" fill="#000"/>
<circle cx="148.87" cy="397.82" r="1.75" fill="#000"/>
<circle cx="151.47" cy="362.83" r="1.5" fill="#ff7a86" stroke="#ff2fd0" stroke-width="0.78"/>
<circle cx="151.47" cy="367.59" r="1.5" fill="#ff7a86" stroke="#ff2fd0" stroke-width="0.78"/>
<circle cx="151.47" cy="369.97" r="1.5" fill="#ff7a86" stroke="#ff2fd0" stroke-width="0.78"/>
<circle cx="151.47" cy="372.28" r="1.5" fill="#ff7a86" stroke="#ff2fd0" stroke-width="0.78"/>
<circle cx="154.77" cy="342.49" r="1.5" fill="#f6ff00" stroke="#28dc46" stroke-width="0.78"/>
<circle cx="154.77" cy="345.30" r="1.5" fill="#f6ff00" stroke="#28dc46" stroke-width="0.78"/>
<circle cx="154.77" cy="353.38" r="1.5" fill="#f6ff00" stroke="#28dc46" stroke-width="0.78"/>
<circle cx="154.77" cy="356.32" r="1.5" fill="#f6ff00" stroke="#28dc46" stroke-width="0.78"/>
<circle cx="154.77" cy="358.70" r="1.5" fill="#f6ff00" stroke="#28dc46" stroke-width="0.78"/>
<line x1="37.50" y1="335.55" x2="37.50" y2="398.85" stroke="#606060" stroke-width="0.9" />
<line x1="37.10" y1="398.45" x2="156.50" y2="398.45" stroke="#555" stroke-width="0.9" />
<line x1="35.20" y1="398.45" x2="37.50" y2="398.45" stroke="#222" stroke-width="0.7" />
<text x="34.30" y="400.35" font-size="5.3" font-weight="bold" text-anchor="end" fill="#111" stroke="#111" stroke-width="0.18" >0</text>
<line x1="35.20" y1="385.93" x2="37.50" y2="385.93" stroke="#222" stroke-width="0.7" />
<text x="34.30" y="387.83" font-size="5.3" font-weight="bold" text-anchor="end" fill="#111" stroke="#111" stroke-width="0.18" >20</text>
<line x1="35.20" y1="373.41" x2="37.50" y2="373.41" stroke="#222" stroke-width="0.7" />
<text x="34.30" y="375.31" font-size="5.3" font-weight="bold" text-anchor="end" fill="#111" stroke="#111" stroke-width="0.18" >40</text>
<line x1="35.20" y1="360.89" x2="37.50" y2="360.89" stroke="#222" stroke-width="0.7" />
<text x="34.30" y="362.79" font-size="5.3" font-weight="bold" text-anchor="end" fill="#111" stroke="#111" stroke-width="0.18" >60</text>
<line x1="35.20" y1="348.37" x2="37.50" y2="348.37" stroke="#222" stroke-width="0.7" />
<text x="34.30" y="350.27" font-size="5.3" font-weight="bold" text-anchor="end" fill="#111" stroke="#111" stroke-width="0.18" >80</text>
<line x1="35.20" y1="335.85" x2="37.50" y2="335.85" stroke="#222" stroke-width="0.7" />
<text x="34.30" y="337.75" font-size="5.3" font-weight="bold" text-anchor="end" fill="#111" stroke="#111" stroke-width="0.18" >100</text>
<line x1="43.00" y1="398.45" x2="43.00" y2="400.65" stroke="#222" stroke-width="0.7" />
<text x="43.00" y="406.30" font-size="5.0" font-weight="bold" text-anchor="middle" fill="#111" stroke="#111" stroke-width="0.18" >0</text>
<line x1="55.00" y1="398.45" x2="55.00" y2="400.65" stroke="#222" stroke-width="0.7" />
<text x="55.00" y="406.30" font-size="5.0" font-weight="bold" text-anchor="middle" fill="#111" stroke="#111" stroke-width="0.18" >7</text>
<line x1="67.00" y1="398.45" x2="67.00" y2="400.65" stroke="#222" stroke-width="0.7" />
<text x="67.00" y="406.30" font-size="5.0" font-weight="bold" text-anchor="middle" fill="#111" stroke="#111" stroke-width="0.18" >14</text>
<line x1="79.00" y1="398.45" x2="79.00" y2="400.65" stroke="#222" stroke-width="0.7" />
<text x="79.00" y="406.30" font-size="5.0" font-weight="bold" text-anchor="middle" fill="#111" stroke="#111" stroke-width="0.18" >21</text>
<line x1="91.00" y1="398.45" x2="91.00" y2="400.65" stroke="#222" stroke-width="0.7" />
<text x="91.00" y="406.30" font-size="5.0" font-weight="bold" text-anchor="middle" fill="#111" stroke="#111" stroke-width="0.18" >28</text>
<line x1="103.00" y1="398.45" x2="103.00" y2="400.65" stroke="#222" stroke-width="0.7" />
<text x="103.00" y="406.30" font-size="5.0" font-weight="bold" text-anchor="middle" fill="#111" stroke="#111" stroke-width="0.18" >35</text>
<line x1="115.00" y1="398.45" x2="115.00" y2="400.65" stroke="#222" stroke-width="0.7" />
<text x="115.00" y="406.30" font-size="5.0" font-weight="bold" text-anchor="middle" fill="#111" stroke="#111" stroke-width="0.18" >42</text>
<line x1="127.00" y1="398.45" x2="127.00" y2="400.65" stroke="#222" stroke-width="0.7" />
<text x="127.00" y="406.30" font-size="5.0" font-weight="bold" text-anchor="middle" fill="#111" stroke="#111" stroke-width="0.18" >56</text>
<line x1="139.00" y1="398.45" x2="139.00" y2="400.65" stroke="#222" stroke-width="0.7" />
<text x="139.00" y="406.30" font-size="5.0" font-weight="bold" text-anchor="middle" fill="#111" stroke="#111" stroke-width="0.18" >70</text>
<line x1="151.00" y1="398.45" x2="151.00" y2="400.65" stroke="#222" stroke-width="0.7" />
<text x="151.00" y="406.30" font-size="5.0" font-weight="bold" text-anchor="middle" fill="#111" stroke="#111" stroke-width="0.18" >84</text>
<text transform="translate(22.00,397.20) rotate(-90)" font-size="5.9" font-weight="bold" fill="#111" stroke="#111" stroke-width="0.28" textLength="61.80" lengthAdjust="spacingAndGlyphs">Percent inhibition (% )</text>
<text x="57.50" y="415.36" font-size="6.0" font-weight="bold" text-anchor="start" fill="#111" stroke="#111" stroke-width="0.18" textLength="79.40" lengthAdjust="spacingAndGlyphs" >Days post vaccination (dpv)</text>
<circle cx="167" cy="340.3" r="1.7" fill="#000"/>
<text x="174.20" y="342.27" font-size="5.2" font-weight="bold" text-anchor="start" fill="#111" stroke="#111" stroke-width="0.18" textLength="52.76" lengthAdjust="spacingAndGlyphs" >Negative control (NC)</text>
<circle cx="167" cy="348.6" r="1.5" fill="#ff7a86" stroke="#ff2fd0" stroke-width="0.78"/>
<text x="174.20" y="350.57" font-size="5.2" font-weight="bold" text-anchor="start" fill="#111" stroke="#111" stroke-width="0.18" textLength="51.13" lengthAdjust="spacingAndGlyphs" >Positive control (PC)</text>
<circle cx="167" cy="357.3" r="1.5" fill="#f6ff00" stroke="#28dc46" stroke-width="0.78"/>
<text x="174.20" y="359.27" font-size="5.2" font-weight="bold" text-anchor="start" fill="#111" stroke="#111" stroke-width="0.18" textLength="90.50" lengthAdjust="spacingAndGlyphs" >Experimantal (Exp., PC+Zinc sulfate)</text>
<text x="285.10" y="263.90" font-size="9.3" font-weight="bold" text-anchor="start" fill="#111" stroke="#111" stroke-width="0.18" >(C)</text>
<text x="333.80" y="271.72" font-size="5.9" font-weight="bold" text-anchor="start" fill="#111" stroke="#111" stroke-width="0.18" textLength="87.30" lengthAdjust="spacingAndGlyphs" >SP A ELISA by PrioCheck™ Kit</text>
<rect x="319.25" y="395.45" width="2.90" height="3.00" fill="#f7f7f7" stroke="#505050" stroke-width="0.5"/>
<line x1="320.70" y1="395.75" x2="320.70" y2="398.45" stroke="#9a9a9a" stroke-width="0.4" />
<line x1="320.70" y1="391.99" x2="320.70" y2="395.45" stroke="#000" stroke-width="0.5" />
<rect x="322.55" y="397.20" width="2.90" height="1.25" fill="#f7aef3" stroke="#f272ec" stroke-width="0.5"/>
<line x1="324.40" y1="397.50" x2="324.40" y2="398.45" stroke="#fbd9f9" stroke-width="0.7" />
<line x1="324.00" y1="396.06" x2="324.00" y2="397.20" stroke="#ff2fd0" stroke-width="0.5" />
<rect x="325.85" y="395.90" width="2.90" height="2.55" fill="#eefcf8" stroke="#3fddb9" stroke-width="0.5"/>
<line x1="327.30" y1="396.20" x2="327.30" y2="398.45" stroke="#3fddb9" stroke-width="0.6" />
<line x1="327.30" y1="394.84" x2="327.30" y2="395.90" stroke="#28dc46" stroke-width="0.5" />
<rect x="331.25" y="396.20" width="2.90" height="2.25" fill="#f7f7f7" stroke="#505050" stroke-width="0.5"/>
<line x1="332.70" y1="396.50" x2="332.70" y2="398.45" stroke="#9a9a9a" stroke-width="0.4" />
<line x1="332.70" y1="394.12" x2="332.70" y2="396.20" stroke="#000" stroke-width="0.5" />
<rect x="334.55" y="396.03" width="2.90" height="2.42" fill="#f7aef3" stroke="#f272ec" stroke-width="0.5"/>
<line x1="336.40" y1="396.33" x2="336.40" y2="398.45" stroke="#fbd9f9" stroke-width="0.7" />
<line x1="336.00" y1="394.25" x2="336.00" y2="396.03" stroke="#ff2fd0" stroke-width="0.5" />
<rect x="337.85" y="394.44" width="2.90" height="4.01" fill="#eefcf8" stroke="#3fddb9" stroke-width="0.5"/>
<line x1="339.30" y1="394.74" x2="339.30" y2="398.45" stroke="#3fddb9" stroke-width="0.6" />
<line x1="339.30" y1="391.41" x2="339.30" y2="394.44" stroke="#28dc46" stroke-width="0.5" />
<rect x="343.25" y="390.53" width="2.90" height="7.92" fill="#f7f7f7" stroke="#505050" stroke-width="0.5"/>
<line x1="344.70" y1="390.83" x2="344.70" y2="398.45" stroke="#9a9a9a" stroke-width="0.4" />
<line x1="344.70" y1="386.10" x2="344.70" y2="390.53" stroke="#000" stroke-width="0.5" />
<rect x="346.55" y="389.59" width="2.90" height="8.86" fill="#f7aef3" stroke="#f272ec" stroke-width="0.5"/>
<line x1="348.40" y1="389.89" x2="348.40" y2="398.45" stroke="#fbd9f9" stroke-width="0.7" />
<line x1="348.00" y1="386.60" x2="348.00" y2="389.59" stroke="#ff2fd0" stroke-width="0.5" />
<rect x="349.85" y="383.13" width="2.90" height="15.32" fill="#eefcf8" stroke="#3fddb9" stroke-width="0.5"/>
<line x1="351.30" y1="383.43" x2="351.30" y2="398.45" stroke="#3fddb9" stroke-width="0.6" />
<line x1="351.30" y1="380.94" x2="351.30" y2="383.13" stroke="#28dc46" stroke-width="0.5" />
<rect x="355.25" y="393.08" width="2.90" height="5.37" fill="#f7f7f7" stroke="#505050" stroke-width="0.5"/>
<line x1="356.70" y1="393.38" x2="356.70" y2="398.45" stroke="#9a9a9a" stroke-width="0.4" />
<line x1="356.70" y1="389.89" x2="356.70" y2="393.08" stroke="#000" stroke-width="0.5" />
<rect x="358.55" y="385.29" width="2.90" height="13.16" fill="#f7aef3" stroke="#f272ec" stroke-width="0.5"/>
<line x1="360.40" y1="385.59" x2="360.40" y2="398.45" stroke="#fbd9f9" stroke-width="0.7" />
<line x1="360.00" y1="380.15" x2="360.00" y2="385.29" stroke="#ff2fd0" stroke-width="0.5" />
<rect x="361.85" y="376.58" width="2.90" height="21.87" fill="#eefcf8" stroke="#3fddb9" stroke-width="0.5"/>
<line x1="363.30" y1="376.88" x2="363.30" y2="398.45" stroke="#3fddb9" stroke-width="0.6" />
<line x1="363.30" y1="374.76" x2="363.30" y2="376.58" stroke="#28dc46" stroke-width="0.5" />
<rect x="367.25" y="388.14" width="2.90" height="10.31" fill="#f7f7f7" stroke="#505050" stroke-width="0.5"/>
<line x1="368.70" y1="388.44" x2="368.70" y2="398.45" stroke="#9a9a9a" stroke-width="0.4" />
<line x1="368.70" y1="384.08" x2="368.70" y2="388.14" stroke="#000" stroke-width="0.5" />
<rect x="370.55" y="381.42" width="2.90" height="17.03" fill="#f7aef3" stroke="#f272ec" stroke-width="0.5"/>
<line x1="372.40" y1="381.72" x2="372.40" y2="398.45" stroke="#fbd9f9" stroke-width="0.7" />
<line x1="372.00" y1="376.88" x2="372.00" y2="381.42" stroke="#ff2fd0" stroke-width="0.5" />
<rect x="373.85" y="370.55" width="2.90" height="27.90" fill="#eefcf8" stroke="#3fddb9" stroke-width="0.5"/>
<line x1="375.30" y1="370.85" x2="375.30" y2="398.45" stroke="#3fddb9" stroke-width="0.6" />
<line x1="375.30" y1="366.68" x2="375.30" y2="370.55" stroke="#28dc46" stroke-width="0.5" />
<rect x="379.25" y="393.91" width="2.90" height="4.54" fill="#f7f7f7" stroke="#505050" stroke-width="0.5"/>
<line x1="380.70" y1="394.21" x2="380.70" y2="398.45" stroke="#9a9a9a" stroke-width="0.4" />
<line x1="380.70" y1="391.32" x2="380.70" y2="393.91" stroke="#000" stroke-width="0.5" />
<rect x="382.55" y="371.99" width="2.90" height="26.46" fill="#f7aef3" stroke="#f272ec" stroke-width="0.5"/>
<line x1="384.40" y1="372.29" x2="384.40" y2="398.45" stroke="#fbd9f9" stroke-width="0.7" />
<line x1="384.00" y1="369.79" x2="384.00" y2="371.99" stroke="#ff2fd0" stroke-width="0.5" />
<rect x="385.85" y="361.88" width="2.90" height="36.57" fill="#eefcf8" stroke="#3fddb9" stroke-width="0.5"/>
<line x1="387.30" y1="362.18" x2="387.30" y2="398.45" stroke="#3fddb9" stroke-width="0.6" />
<line x1="387.30" y1="359.22" x2="387.30" y2="361.88" stroke="#28dc46" stroke-width="0.5" />
<rect x="391.25" y="390.25" width="2.90" height="8.20" fill="#f7f7f7" stroke="#505050" stroke-width="0.5"/>
<line x1="392.70" y1="390.55" x2="392.70" y2="398.45" stroke="#9a9a9a" stroke-width="0.4" />
<line x1="392.70" y1="388.22" x2="392.70" y2="390.25" stroke="#000" stroke-width="0.5" />
<rect x="394.55" y="365.96" width="2.90" height="32.49" fill="#f7aef3" stroke="#f272ec" stroke-width="0.5"/>
<line x1="396.40" y1="366.26" x2="396.40" y2="398.45" stroke="#fbd9f9" stroke-width="0.7" />
<line x1="396.00" y1="362.83" x2="396.00" y2="365.96" stroke="#ff2fd0" stroke-width="0.5" />
<rect x="397.85" y="356.13" width="2.90" height="42.32" fill="#eefcf8" stroke="#3fddb9" stroke-width="0.5"/>
<line x1="399.30" y1="356.43" x2="399.30" y2="398.45" stroke="#3fddb9" stroke-width="0.6" />
<line x1="399.30" y1="351.91" x2="399.30" y2="356.13" stroke="#28dc46" stroke-width="0.5" />
<rect x="403.25" y="392.46" width="2.90" height="5.99" fill="#f7f7f7" stroke="#505050" stroke-width="0.5"/>
<line x1="404.70" y1="392.76" x2="404.70" y2="398.45" stroke="#9a9a9a" stroke-width="0.4" />
<line x1="404.70" y1="387.27" x2="404.70" y2="392.46" stroke="#000" stroke-width="0.5" />
<rect x="406.55" y="360.47" width="2.90" height="37.98" fill="#f7aef3" stroke="#f272ec" stroke-width="0.5"/>
<line x1="408.40" y1="360.77" x2="408.40" y2="398.45" stroke="#fbd9f9" stroke-width="0.7" />
<line x1="408.00" y1="356.59" x2="408.00" y2="360.47" stroke="#ff2fd0" stroke-width="0.5" />
<rect x="409.85" y="355.29" width="2.90" height="43.16" fill="#eefcf8" stroke="#3fddb9" stroke-width="0.5"/>
<line x1="411.30" y1="355.59" x2="411.30" y2="398.45" stroke="#3fddb9" stroke-width="0.6" />
<line x1="411.30" y1="352.44" x2="411.30" y2="355.29" stroke="#28dc46" stroke-width="0.5" />
<rect x="415.25" y="395.73" width="2.90" height="2.72" fill="#f7f7f7" stroke="#505050" stroke-width="0.5"/>
<line x1="416.70" y1="396.03" x2="416.70" y2="398.45" stroke="#9a9a9a" stroke-width="0.4" />
<line x1="416.70" y1="392.87" x2="416.70" y2="395.73" stroke="#000" stroke-width="0.5" />
<rect x="418.55" y="369.55" width="2.90" height="28.90" fill="#f7aef3" stroke="#f272ec" stroke-width="0.5"/>
<line x1="420.40" y1="369.85" x2="420.40" y2="398.45" stroke="#fbd9f9" stroke-width="0.7" />
<line x1="420.00" y1="365.96" x2="420.00" y2="369.55" stroke="#ff2fd0" stroke-width="0.5" />
<rect x="421.85" y="356.93" width="2.90" height="41.52" fill="#eefcf8" stroke="#3fddb9" stroke-width="0.5"/>
<line x1="423.30" y1="357.23" x2="423.30" y2="398.45" stroke="#3fddb9" stroke-width="0.6" />
<line x1="423.30" y1="354.33" x2="423.30" y2="356.93" stroke="#28dc46" stroke-width="0.5" />
<rect x="427.25" y="388.91" width="2.90" height="9.54" fill="#f7f7f7" stroke="#505050" stroke-width="0.5"/>
<line x1="428.70" y1="389.21" x2="428.70" y2="398.45" stroke="#9a9a9a" stroke-width="0.4" />
<line x1="428.70" y1="387.16" x2="428.70" y2="388.91" stroke="#000" stroke-width="0.5" />
<rect x="430.55" y="371.11" width="2.90" height="27.34" fill="#f7aef3" stroke="#f272ec" stroke-width="0.5"/>
<line x1="432.40" y1="371.41" x2="432.40" y2="398.45" stroke="#fbd9f9" stroke-width="0.7" />
<line x1="432.00" y1="368.17" x2="432.00" y2="371.11" stroke="#ff2fd0" stroke-width="0.5" />
<rect x="433.85" y="355.79" width="2.90" height="42.66" fill="#eefcf8" stroke="#3fddb9" stroke-width="0.5"/>
<line x1="435.30" y1="356.09" x2="435.30" y2="398.45" stroke="#3fddb9" stroke-width="0.6" />
<line x1="435.30" y1="346.76" x2="435.30" y2="355.79" stroke="#28dc46" stroke-width="0.5" />
<line x1="319.00" y1="367.50" x2="438.00" y2="367.50" stroke="#707070" stroke-width="0.7" stroke-dasharray="1 1"/>
<path d="M348.00,384.00 L348.00,335.50 L351.00,335.50 L351.00,378.00" fill="none" stroke="#2a2a2a" stroke-width="0.65"/>
<text x="348.40" y="336" font-size="5.0" font-weight="bold" fill="#111" textLength="2.20" lengthAdjust="spacing">*</text>
<path d="M344.30,329.50 L344.30,326.70 L351.50,326.70 L351.50,329.50" fill="none" stroke="#2a2a2a" stroke-width="0.65"/>
<text x="345.70" y="328" font-size="5.0" font-weight="bold" fill="#111" textLength="4.40" lengthAdjust="spacing">**</text>
<path d="M356.40,387.50 L356.40,335.50 L359.20,335.50 L359.20,376.70" fill="none" stroke="#2a2a2a" stroke-width="0.65"/>
<text x="355.60" y="336" font-size="5.0" font-weight="bold" fill="#111" textLength="4.40" lengthAdjust="spacing">**</text>
<path d="M359.70,329.50 L359.70,326.70 L363.60,326.70 L363.60,329.50" fill="none" stroke="#2a2a2a" stroke-width="0.65"/>
<text x="358.35" y="328" font-size="5.0" font-weight="bold" fill="#111" textLength="6.60" lengthAdjust="spacing">***</text>
<path d="M356.40,319.80 L356.40,317.10 L363.60,317.10 L363.60,319.80" fill="none" stroke="#2a2a2a" stroke-width="0.65"/>
<text x="355.60" y="318" font-size="5.0" font-weight="bold" fill="#111" textLength="8.80" lengthAdjust="spacing">****</text>
<path d="M368.50,380.30 L368.50,335.50 L371.80,335.50 L371.80,372.70" fill="none" stroke="#2a2a2a" stroke-width="0.65"/>
<text x="366.85" y="336" font-size="5.0" font-weight="bold" fill="#111" textLength="6.60" lengthAdjust="spacing">***</text>
<path d="M371.80,329.50 L371.80,317.10 L375.10,317.10 L375.10,320.00" fill="none" stroke="#2a2a2a" stroke-width="0.65"/>
<text x="369.05" y="318" font-size="5.0" font-weight="bold" fill="#111" textLength="8.80" lengthAdjust="spacing">****</text>
<path d="M368.50,310.50 L368.50,298.50 L375.40,298.50 L375.40,310.50" fill="none" stroke="#2a2a2a" stroke-width="0.65"/>
<text x="367.55" y="299" font-size="5.0" font-weight="bold" fill="#111" textLength="8.80" lengthAdjust="spacing">****</text>
<path d="M380.60,389.00 L380.60,326.70 L383.40,326.70 L383.40,366.70" fill="none" stroke="#2a2a2a" stroke-width="0.65"/>
<text x="377.60" y="328" font-size="5.0" font-weight="bold" fill="#111" textLength="8.80" lengthAdjust="spacing">****</text>
<path d="M383.70,320.10 L383.70,307.50 L387.50,307.50 L387.50,320.10" fill="none" stroke="#2a2a2a" stroke-width="0.65"/>
<text x="381.20" y="308" font-size="5.0" font-weight="bold" fill="#111" textLength="8.80" lengthAdjust="spacing">****</text>
<path d="M380.60,301.40 L380.60,289.00 L387.50,289.00 L387.50,301.40" fill="none" stroke="#2a2a2a" stroke-width="0.65"/>
<text x="379.65" y="290" font-size="5.0" font-weight="bold" fill="#111" textLength="8.80" lengthAdjust="spacing">****</text>
<path d="M392.50,384.60 L392.50,335.50 L395.80,335.50 L395.80,359.50" fill="none" stroke="#2a2a2a" stroke-width="0.65"/>
<text x="389.75" y="336" font-size="5.0" font-weight="bold" fill="#111" textLength="8.80" lengthAdjust="spacing">****</text>
<path d="M395.80,329.50 L395.80,317.10 L399.30,317.10 L399.30,320.00" fill="none" stroke="#2a2a2a" stroke-width="0.65"/>
<text x="393.15" y="318" font-size="5.0" font-weight="bold" fill="#111" textLength="8.80" lengthAdjust="spacing">****</text>
<path d="M392.50,301.40 L392.50,298.50 L399.30,298.50 L399.30,310.80" fill="none" stroke="#2a2a2a" stroke-width="0.65"/>
<text x="391.50" y="299" font-size="5.0" font-weight="bold" fill="#111" textLength="8.80" lengthAdjust="spacing">****</text>
<path d="M404.60,383.20 L404.60,326.70 L408.30,326.70 L408.30,354.50" fill="none" stroke="#2a2a2a" stroke-width="0.65"/>
<text x="402.05" y="328" font-size="5.0" font-weight="bold" fill="#111" textLength="8.80" lengthAdjust="spacing">****</text>
<path d="M408.10,319.80 L408.10,317.10 L411.20,317.10 L411.20,319.80" fill="none" stroke="#2a2a2a" stroke-width="0.65"/>
<text x="407.45" y="318" font-size="5.0" font-weight="bold" fill="#111" textLength="4.40" lengthAdjust="spacing">**</text>
<path d="M404.60,310.80 L404.60,307.70 L411.20,307.70 L411.20,310.80" fill="none" stroke="#2a2a2a" stroke-width="0.65"/>
<text x="403.50" y="309" font-size="5.0" font-weight="bold" fill="#111" textLength="8.80" lengthAdjust="spacing">****</text>
<path d="M416.90,389.70 L416.90,335.50 L420.00,335.50 L420.00,363.00" fill="none" stroke="#2a2a2a" stroke-width="0.65"/>
<text x="414.05" y="336" font-size="5.0" font-weight="bold" fill="#111" textLength="8.80" lengthAdjust="spacing">****</text>
<path d="M420.00,329.50 L420.00,317.10 L423.20,317.10 L423.20,320.00" fill="none" stroke="#2a2a2a" stroke-width="0.65"/>
<text x="417.20" y="318" font-size="5.0" font-weight="bold" fill="#111" textLength="8.80" lengthAdjust="spacing">****</text>
<path d="M416.60,310.80 L416.60,298.50 L423.50,298.50 L423.50,310.80" fill="none" stroke="#2a2a2a" stroke-width="0.65"/>
<text x="415.65" y="299" font-size="5.0" font-weight="bold" fill="#111" textLength="8.80" lengthAdjust="spacing">****</text>
<path d="M432.30,366.00 L432.30,335.50 L435.50,335.50 L435.50,339.40" fill="none" stroke="#2a2a2a" stroke-width="0.65"/>
<text x="429.50" y="336" font-size="5.0" font-weight="bold" fill="#111" textLength="8.80" lengthAdjust="spacing">****</text>
<path d="M428.40,329.50 L428.40,326.70 L432.30,326.70 L432.30,329.50" fill="none" stroke="#2a2a2a" stroke-width="0.65"/>
<text x="425.95" y="328" font-size="5.0" font-weight="bold" fill="#111" textLength="8.80" lengthAdjust="spacing">****</text>
<path d="M428.40,310.80 L428.40,307.70 L435.30,307.70 L435.30,319.80" fill="none" stroke="#2a2a2a" stroke-width="0.65"/>
<text x="427.45" y="309" font-size="5.0" font-weight="bold" fill="#111" textLength="8.80" lengthAdjust="spacing">****</text>
<circle cx="320.70" cy="390.44" r="1.75" fill="#000"/>
<circle cx="320.70" cy="396.01" r="1.75" fill="#000"/>
<circle cx="320.00" cy="397.20" r="1.75" fill="#000"/>
<circle cx="321.40" cy="398.14" r="1.75" fill="#000"/>
<circle cx="324.00" cy="395.95" r="1.5" fill="#ff7a86" stroke="#ff2fd0" stroke-width="0.78"/>
<circle cx="324.70" cy="396.57" r="1.5" fill="#ff7a86" stroke="#ff2fd0" stroke-width="0.78"/>
<circle cx="323.30" cy="397.82" r="1.5" fill="#ff7a86" stroke="#ff2fd0" stroke-width="0.78"/>
<circle cx="324.70" cy="398.45" r="1.5" fill="#ff7a86" stroke="#ff2fd0" stroke-width="0.78"/>
<circle cx="327.30" cy="394.82" r="1.5" fill="#f6ff00" stroke="#28dc46" stroke-width="0.78"/>
<circle cx="328.00" cy="395.95" r="1.5" fill="#f6ff00" stroke="#28dc46" stroke-width="0.78"/>
<circle cx="326.60" cy="396.95" r="1.5" fill="#f6ff00" stroke="#28dc46" stroke-width="0.78"/>
<circle cx="332.70" cy="393.69" r="1.75" fill="#000"/>
<circle cx="333.40" cy="395.45" r="1.75" fill="#000"/>
<circle cx="332.00" cy="397.20" r="1.75" fill="#000"/>
<circle cx="333.40" cy="398.45" r="1.75" fill="#000"/>
<circle cx="336.00" cy="394.26" r="1.5" fill="#ff7a86" stroke="#ff2fd0" stroke-width="0.78"/>
<circle cx="336.70" cy="396.01" r="1.5" fill="#ff7a86" stroke="#ff2fd0" stroke-width="0.78"/>
<circle cx="335.30" cy="397.82" r="1.5" fill="#ff7a86" stroke="#ff2fd0" stroke-width="0.78"/>
<circle cx="339.30" cy="391.13" r="1.5" fill="#f6ff00" stroke="#28dc46" stroke-width="0.78"/>
<circle cx="340.00" cy="393.07" r="1.5" fill="#f6ff00" stroke="#28dc46" stroke-width="0.78"/>
<circle cx="339.30" cy="395.45" r="1.5" fill="#f6ff00" stroke="#28dc46" stroke-width="0.78"/>
<circle cx="339.30" cy="398.14" r="1.5" fill="#f6ff00" stroke="#28dc46" stroke-width="0.78"/>
<circle cx="344.70" cy="386.68" r="1.75" fill="#000"/>
<circle cx="345.40" cy="388.43" r="1.75" fill="#000"/>
<circle cx="344.00" cy="390.19" r="1.75" fill="#000"/>
<circle cx="344.70" cy="396.82" r="1.75" fill="#000"/>
<circle cx="348.00" cy="386.12" r="1.5" fill="#ff7a86" stroke="#ff2fd0" stroke-width="0.78"/>
<circle cx="348.00" cy="388.43" r="1.5" fill="#ff7a86" stroke="#ff2fd0" stroke-width="0.78"/>
<circle cx="348.00" cy="390.75" r="1.5" fill="#ff7a86" stroke="#ff2fd0" stroke-width="0.78"/>
<circle cx="348.00" cy="393.07" r="1.5" fill="#ff7a86" stroke="#ff2fd0" stroke-width="0.78"/>
<circle cx="351.30" cy="380.92" r="1.5" fill="#f6ff00" stroke="#28dc46" stroke-width="0.78"/>
<circle cx="351.30" cy="383.18" r="1.5" fill="#f6ff00" stroke="#28dc46" stroke-width="0.78"/>
<circle cx="350.60" cy="385.30" r="1.5" fill="#f6ff00" stroke="#28dc46" stroke-width="0.78"/>
<circle cx="356.70" cy="389.94" r="1.75" fill="#000"/>
<circle cx="357.40" cy="391.31" r="1.75" fill="#000"/>
<circle cx="356.70" cy="393.88" r="1.75" fill="#000"/>
<circle cx="356.70" cy="397.20" r="1.75" fill="#000"/>
<circle cx="360.00" cy="379.04" r="1.5" fill="#ff7a86" stroke="#ff2fd0" stroke-width="0.78"/>
<circle cx="360.00" cy="383.74" r="1.5" fill="#ff7a86" stroke="#ff2fd0" stroke-width="0.78"/>
<circle cx="360.00" cy="387.24" r="1.5" fill="#ff7a86" stroke="#ff2fd0" stroke-width="0.78"/>
<circle cx="360.00" cy="391.13" r="1.5" fill="#ff7a86" stroke="#ff2fd0" stroke-width="0.78"/>
<circle cx="363.30" cy="374.66" r="1.5" fill="#f6ff00" stroke="#28dc46" stroke-width="0.78"/>
<circle cx="364.00" cy="376.79" r="1.5" fill="#f6ff00" stroke="#28dc46" stroke-width="0.78"/>
<circle cx="362.60" cy="378.29" r="1.5" fill="#f6ff00" stroke="#28dc46" stroke-width="0.78"/>
<circle cx="368.70" cy="382.61" r="1.75" fill="#000"/>
<circle cx="368.70" cy="387.81" r="1.75" fill="#000"/>
<circle cx="368.70" cy="390.19" r="1.75" fill="#000"/>
<circle cx="369.40" cy="391.94" r="1.75" fill="#000"/>
<circle cx="372.00" cy="375.29" r="1.5" fill="#ff7a86" stroke="#ff2fd0" stroke-width="0.78"/>
<circle cx="372.00" cy="380.92" r="1.5" fill="#ff7a86" stroke="#ff2fd0" stroke-width="0.78"/>
<circle cx="372.00" cy="383.74" r="1.5" fill="#ff7a86" stroke="#ff2fd0" stroke-width="0.78"/>
<circle cx="372.70" cy="385.74" r="1.5" fill="#ff7a86" stroke="#ff2fd0" stroke-width="0.78"/>
<circle cx="375.30" cy="365.08" r="1.5" fill="#f6ff00" stroke="#28dc46" stroke-width="0.78"/>
<circle cx="375.30" cy="370.91" r="1.5" fill="#f6ff00" stroke="#28dc46" stroke-width="0.78"/>
<circle cx="374.60" cy="372.16" r="1.5" fill="#f6ff00" stroke="#28dc46" stroke-width="0.78"/>
<circle cx="376.00" cy="374.04" r="1.5" fill="#f6ff00" stroke="#28dc46" stroke-width="0.78"/>
<circle cx="380.70" cy="390.69" r="1.75" fill="#000"/>
<circle cx="380.70" cy="393.07" r="1.75" fill="#000"/>
<circle cx="380.70" cy="395.32" r="1.75" fill="#000"/>
<circle cx="381.40" cy="396.57" r="1.75" fill="#000"/>
<circle cx="384.00" cy="369.65" r="1.5" fill="#ff7a86" stroke="#ff2fd0" stroke-width="0.78"/>
<circle cx="384.00" cy="372.28" r="1.5" fill="#ff7a86" stroke="#ff2fd0" stroke-width="0.78"/>
<circle cx="383.30" cy="374.04" r="1.5" fill="#ff7a86" stroke="#ff2fd0" stroke-width="0.78"/>
<circle cx="387.30" cy="359.01" r="1.5" fill="#f6ff00" stroke="#28dc46" stroke-width="0.78"/>
<circle cx="388.00" cy="360.45" r="1.5" fill="#f6ff00" stroke="#28dc46" stroke-width="0.78"/>
<circle cx="387.30" cy="363.08" r="1.5" fill="#f6ff00" stroke="#28dc46" stroke-width="0.78"/>
<circle cx="388.00" cy="364.96" r="1.5" fill="#f6ff00" stroke="#28dc46" stroke-width="0.78"/>
<circle cx="392.70" cy="387.81" r="1.75" fill="#000"/>
<circle cx="393.40" cy="389.50" r="1.75" fill="#000"/>
<circle cx="392.00" cy="391.25" r="1.75" fill="#000"/>
<circle cx="393.40" cy="392.44" r="1.75" fill="#000"/>
<circle cx="396.00" cy="362.27" r="1.5" fill="#ff7a86" stroke="#ff2fd0" stroke-width="0.78"/>
<circle cx="396.00" cy="364.65" r="1.5" fill="#ff7a86" stroke="#ff2fd0" stroke-width="0.78"/>
<circle cx="396.00" cy="367.59" r="1.5" fill="#ff7a86" stroke="#ff2fd0" stroke-width="0.78"/>
<circle cx="396.70" cy="369.34" r="1.5" fill="#ff7a86" stroke="#ff2fd0" stroke-width="0.78"/>
<circle cx="399.30" cy="351.56" r="1.5" fill="#f6ff00" stroke="#28dc46" stroke-width="0.78"/>
<circle cx="399.30" cy="356.95" r="1.5" fill="#f6ff00" stroke="#28dc46" stroke-width="0.78"/>
<circle cx="399.30" cy="359.89" r="1.5" fill="#f6ff00" stroke="#28dc46" stroke-width="0.78"/>
<circle cx="404.70" cy="385.93" r="1.75" fill="#000"/>
<circle cx="404.70" cy="390.69" r="1.75" fill="#000"/>
<circle cx="404.70" cy="396.01" r="1.75" fill="#000"/>
<circle cx="405.40" cy="397.20" r="1.75" fill="#000"/>
<circle cx="408.00" cy="356.32" r="1.5" fill="#ff7a86" stroke="#ff2fd0" stroke-width="0.78"/>
<circle cx="408.00" cy="361.08" r="1.5" fill="#ff7a86" stroke="#ff2fd0" stroke-width="0.78"/>
<circle cx="408.00" cy="364.02" r="1.5" fill="#ff7a86" stroke="#ff2fd0" stroke-width="0.78"/>
<circle cx="411.30" cy="352.13" r="1.5" fill="#f6ff00" stroke="#28dc46" stroke-width="0.78"/>
<circle cx="412.00" cy="354.00" r="1.5" fill="#f6ff00" stroke="#28dc46" stroke-width="0.78"/>
<circle cx="411.30" cy="356.32" r="1.5" fill="#f6ff00" stroke="#28dc46" stroke-width="0.78"/>
<circle cx="411.30" cy="358.70" r="1.5" fill="#f6ff00" stroke="#28dc46" stroke-width="0.78"/>
<circle cx="416.70" cy="391.88" r="1.75" fill="#000"/>
<circle cx="416.70" cy="395.38" r="1.75" fill="#000"/>
<circle cx="416.00" cy="397.20" r="1.75" fill="#000"/>
<circle cx="417.40" cy="398.45" r="1.75" fill="#000"/>
<circle cx="420.00" cy="365.77" r="1.5" fill="#ff7a86" stroke="#ff2fd0" stroke-width="0.78"/>
<circle cx="420.00" cy="369.97" r="1.5" fill="#ff7a86" stroke="#ff2fd0" stroke-width="0.78"/>
<circle cx="420.00" cy="372.91" r="1.5" fill="#ff7a86" stroke="#ff2fd0" stroke-width="0.78"/>
<circle cx="423.30" cy="354.32" r="1.5" fill="#f6ff00" stroke="#28dc46" stroke-width="0.78"/>
<circle cx="423.30" cy="356.95" r="1.5" fill="#f6ff00" stroke="#28dc46" stroke-width="0.78"/>
<circle cx="423.30" cy="359.51" r="1.5" fill="#f6ff00" stroke="#28dc46" stroke-width="0.78"/>
<circle cx="428.70" cy="387.18" r="1.75" fill="#000"/>
<circle cx="429.40" cy="388.87" r="1.75" fill="#000"/>
<circle cx="428.00" cy="390.69" r="1.75" fill="#000"/>
<circle cx="432.00" cy="368.15" r="1.5" fill="#ff7a86" stroke="#ff2fd0" stroke-width="0.78"/>
<circle cx="432.00" cy="371.16" r="1.5" fill="#ff7a86" stroke="#ff2fd0" stroke-width="0.78"/>
<circle cx="432.00" cy="374.04" r="1.5" fill="#ff7a86" stroke="#ff2fd0" stroke-width="0.78"/>
<circle cx="435.30" cy="342.92" r="1.5" fill="#f6ff00" stroke="#28dc46" stroke-width="0.78"/>
<circle cx="435.30" cy="356.95" r="1.5" fill="#f6ff00" stroke="#28dc46" stroke-width="0.78"/>
<circle cx="435.30" cy="359.51" r="1.5" fill="#f6ff00" stroke="#28dc46" stroke-width="0.78"/>
<circle cx="435.30" cy="363.77" r="1.5" fill="#f6ff00" stroke="#28dc46" stroke-width="0.78"/>
<line x1="318.20" y1="335.55" x2="318.20" y2="398.85" stroke="#606060" stroke-width="0.9" />
<line x1="317.80" y1="398.45" x2="438.00" y2="398.45" stroke="#555" stroke-width="0.9" />
<line x1="315.90" y1="398.45" x2="318.20" y2="398.45" stroke="#222" stroke-width="0.7" />
<text x="315.00" y="400.35" font-size="5.3" font-weight="bold" text-anchor="end" fill="#111" stroke="#111" stroke-width="0.18" >0</text>
<line x1="315.90" y1="385.93" x2="318.20" y2="385.93" stroke="#222" stroke-width="0.7" />
<text x="315.00" y="387.83" font-size="5.3" font-weight="bold" text-anchor="end" fill="#111" stroke="#111" stroke-width="0.18" >20</text>
<line x1="315.90" y1="373.41" x2="318.20" y2="373.41" stroke="#222" stroke-width="0.7" />
<text x="315.00" y="375.31" font-size="5.3" font-weight="bold" text-anchor="end" fill="#111" stroke="#111" stroke-width="0.18" >40</text>
<line x1="315.90" y1="360.89" x2="318.20" y2="360.89" stroke="#222" stroke-width="0.7" />
<text x="315.00" y="362.79" font-size="5.3" font-weight="bold" text-anchor="end" fill="#111" stroke="#111" stroke-width="0.18" >60</text>
<line x1="315.90" y1="348.37" x2="318.20" y2="348.37" stroke="#222" stroke-width="0.7" />
<text x="315.00" y="350.27" font-size="5.3" font-weight="bold" text-anchor="end" fill="#111" stroke="#111" stroke-width="0.18" >80</text>
<line x1="315.90" y1="335.85" x2="318.20" y2="335.85" stroke="#222" stroke-width="0.7" />
<text x="315.00" y="337.75" font-size="5.3" font-weight="bold" text-anchor="end" fill="#111" stroke="#111" stroke-width="0.18" >100</text>
<line x1="323.70" y1="398.45" x2="323.70" y2="400.65" stroke="#222" stroke-width="0.7" />
<text x="323.70" y="406.30" font-size="5.0" font-weight="bold" text-anchor="middle" fill="#111" stroke="#111" stroke-width="0.18" >0</text>
<line x1="335.80" y1="398.45" x2="335.80" y2="400.65" stroke="#222" stroke-width="0.7" />
<text x="335.80" y="406.30" font-size="5.0" font-weight="bold" text-anchor="middle" fill="#111" stroke="#111" stroke-width="0.18" >7</text>
<line x1="347.90" y1="398.45" x2="347.90" y2="400.65" stroke="#222" stroke-width="0.7" />
<text x="347.90" y="406.30" font-size="5.0" font-weight="bold" text-anchor="middle" fill="#111" stroke="#111" stroke-width="0.18" >14</text>
<line x1="360.00" y1="398.45" x2="360.00" y2="400.65" stroke="#222" stroke-width="0.7" />
<text x="360.00" y="406.30" font-size="5.0" font-weight="bold" text-anchor="middle" fill="#111" stroke="#111" stroke-width="0.18" >21</text>
<line x1="372.10" y1="398.45" x2="372.10" y2="400.65" stroke="#222" stroke-width="0.7" />
<text x="372.10" y="406.30" font-size="5.0" font-weight="bold" text-anchor="middle" fill="#111" stroke="#111" stroke-width="0.18" >28</text>
<line x1="384.20" y1="398.45" x2="384.20" y2="400.65" stroke="#222" stroke-width="0.7" />
<text x="384.20" y="406.30" font-size="5.0" font-weight="bold" text-anchor="middle" fill="#111" stroke="#111" stroke-width="0.18" >35</text>
<line x1="396.30" y1="398.45" x2="396.30" y2="400.65" stroke="#222" stroke-width="0.7" />
<text x="396.30" y="406.30" font-size="5.0" font-weight="bold" text-anchor="middle" fill="#111" stroke="#111" stroke-width="0.18" >42</text>
<line x1="408.40" y1="398.45" x2="408.40" y2="400.65" stroke="#222" stroke-width="0.7" />
<text x="408.40" y="406.30" font-size="5.0" font-weight="bold" text-anchor="middle" fill="#111" stroke="#111" stroke-width="0.18" >56</text>
<line x1="420.50" y1="398.45" x2="420.50" y2="400.65" stroke="#222" stroke-width="0.7" />
<text x="420.50" y="406.30" font-size="5.0" font-weight="bold" text-anchor="middle" fill="#111" stroke="#111" stroke-width="0.18" >70</text>
<line x1="432.60" y1="398.45" x2="432.60" y2="400.65" stroke="#222" stroke-width="0.7" />
<text x="432.60" y="406.30" font-size="5.0" font-weight="bold" text-anchor="middle" fill="#111" stroke="#111" stroke-width="0.18" >84</text>
<text transform="translate(303.00,397.20) rotate(-90)" font-size="5.9" font-weight="bold" fill="#111" stroke="#111" stroke-width="0.28" textLength="61.80" lengthAdjust="spacingAndGlyphs">Percent inhibition (% )</text>
<text x="338.50" y="415.36" font-size="6.0" font-weight="bold" text-anchor="start" fill="#111" stroke="#111" stroke-width="0.18" textLength="79.40" lengthAdjust="spacingAndGlyphs" >Days post vaccination (dpv)</text>
<circle cx="447.9" cy="340.3" r="1.7" fill="#000"/>
<text x="454.40" y="342.27" font-size="5.2" font-weight="bold" text-anchor="start" fill="#111" stroke="#111" stroke-width="0.18" textLength="52.59" lengthAdjust="spacingAndGlyphs" >Negative control (NC)</text>
<circle cx="447.9" cy="348.3" r="1.5" fill="#ff7a86" stroke="#ff2fd0" stroke-width="0.78"/>
<text x="454.40" y="350.27" font-size="5.2" font-weight="bold" text-anchor="start" fill="#111" stroke="#111" stroke-width="0.18" textLength="50.96" lengthAdjust="spacingAndGlyphs" >Positive control (PC)</text>
<circle cx="447.9" cy="357.3" r="1.5" fill="#f6ff00" stroke="#28dc46" stroke-width="0.78"/>
<text x="454.40" y="359.27" font-size="5.2" font-weight="bold" text-anchor="start" fill="#111" stroke="#111" stroke-width="0.18" textLength="90.20" lengthAdjust="spacingAndGlyphs" >Experimantal (Exp., PC+Zinc sulfate)</text>
<text x="4.50" y="453.80" font-size="9.3" font-weight="bold" text-anchor="start" fill="#111" stroke="#111" stroke-width="0.18" >(D)</text>
<text x="64.60" y="462.35" font-size="6.8" font-weight="bold" text-anchor="start" fill="#111" stroke="#111" stroke-width="0.18" textLength="61.10" lengthAdjust="spacingAndGlyphs" >VN titers for O PA2</text>
<rect x="33.00" y="560.45" width="3.20" height="13.00" fill="#f7f7f7" stroke="#505050" stroke-width="0.5"/>
<line x1="34.60" y1="560.75" x2="34.60" y2="573.45" stroke="#9a9a9a" stroke-width="0.4" />
<rect x="36.50" y="560.45" width="3.20" height="13.00" fill="#f7aef3" stroke="#f272ec" stroke-width="0.5"/>
<line x1="38.50" y1="560.75" x2="38.50" y2="573.45" stroke="#fbd9f9" stroke-width="0.7" />
<rect x="40.00" y="560.45" width="3.20" height="13.00" fill="#eefcf8" stroke="#3fddb9" stroke-width="0.5"/>
<line x1="41.60" y1="560.75" x2="41.60" y2="573.45" stroke="#3fddb9" stroke-width="0.6" />
<rect x="45.60" y="560.45" width="3.20" height="13.00" fill="#f7f7f7" stroke="#505050" stroke-width="0.5"/>
<line x1="47.20" y1="560.75" x2="47.20" y2="573.45" stroke="#9a9a9a" stroke-width="0.4" />
<rect x="49.10" y="560.45" width="3.20" height="13.00" fill="#f7aef3" stroke="#f272ec" stroke-width="0.5"/>
<line x1="51.10" y1="560.75" x2="51.10" y2="573.45" stroke="#fbd9f9" stroke-width="0.7" />
<rect x="52.60" y="557.70" width="3.20" height="15.75" fill="#eefcf8" stroke="#3fddb9" stroke-width="0.5"/>
<line x1="54.20" y1="558.00" x2="54.20" y2="573.45" stroke="#3fddb9" stroke-width="0.6" />
<line x1="54.20" y1="555.31" x2="54.20" y2="557.70" stroke="#28dc46" stroke-width="0.5" />
<rect x="58.20" y="560.45" width="3.20" height="13.00" fill="#f7f7f7" stroke="#505050" stroke-width="0.5"/>
<line x1="59.80" y1="560.75" x2="59.80" y2="573.45" stroke="#9a9a9a" stroke-width="0.4" />
<rect x="61.70" y="557.17" width="3.20" height="16.28" fill="#f7aef3" stroke="#f272ec" stroke-width="0.5"/>
<line x1="63.70" y1="557.47" x2="63.70" y2="573.45" stroke="#fbd9f9" stroke-width="0.7" />
<line x1="63.30" y1="554.11" x2="63.30" y2="557.17" stroke="#ff2fd0" stroke-width="0.5" />
<rect x="65.20" y="552.88" width="3.20" height="20.57" fill="#eefcf8" stroke="#3fddb9" stroke-width="0.5"/>
<line x1="66.80" y1="553.18" x2="66.80" y2="573.45" stroke="#3fddb9" stroke-width="0.6" />
<line x1="66.80" y1="551.54" x2="66.80" y2="552.88" stroke="#28dc46" stroke-width="0.5" />
<rect x="70.80" y="560.45" width="3.20" height="13.00" fill="#f7f7f7" stroke="#505050" stroke-width="0.5"/>
<line x1="72.40" y1="560.75" x2="72.40" y2="573.45" stroke="#9a9a9a" stroke-width="0.4" />
<rect x="74.30" y="553.70" width="3.20" height="19.75" fill="#f7aef3" stroke="#f272ec" stroke-width="0.5"/>
<line x1="76.30" y1="554.00" x2="76.30" y2="573.45" stroke="#fbd9f9" stroke-width="0.7" />
<line x1="75.90" y1="551.24" x2="75.90" y2="553.70" stroke="#ff2fd0" stroke-width="0.5" />
<rect x="77.80" y="549.75" width="3.20" height="23.70" fill="#eefcf8" stroke="#3fddb9" stroke-width="0.5"/>
<line x1="79.40" y1="550.05" x2="79.40" y2="573.45" stroke="#3fddb9" stroke-width="0.6" />
<line x1="79.40" y1="547.44" x2="79.40" y2="549.75" stroke="#28dc46" stroke-width="0.5" />
<rect x="83.40" y="560.45" width="3.20" height="13.00" fill="#f7f7f7" stroke="#505050" stroke-width="0.5"/>
<line x1="85.00" y1="560.75" x2="85.00" y2="573.45" stroke="#9a9a9a" stroke-width="0.4" />
<rect x="86.90" y="550.40" width="3.20" height="23.05" fill="#f7aef3" stroke="#f272ec" stroke-width="0.5"/>
<line x1="88.90" y1="550.70" x2="88.90" y2="573.45" stroke="#fbd9f9" stroke-width="0.7" />
<line x1="88.50" y1="547.65" x2="88.50" y2="550.40" stroke="#ff2fd0" stroke-width="0.5" />
<rect x="90.40" y="542.85" width="3.20" height="30.60" fill="#eefcf8" stroke="#3fddb9" stroke-width="0.5"/>
<line x1="92.00" y1="543.15" x2="92.00" y2="573.45" stroke="#3fddb9" stroke-width="0.6" />
<line x1="92.00" y1="539.17" x2="92.00" y2="542.85" stroke="#28dc46" stroke-width="0.5" />
<rect x="96.00" y="560.45" width="3.20" height="13.00" fill="#f7f7f7" stroke="#505050" stroke-width="0.5"/>
<line x1="97.60" y1="560.75" x2="97.60" y2="573.45" stroke="#9a9a9a" stroke-width="0.4" />
<rect x="99.50" y="546.90" width="3.20" height="26.55" fill="#f7aef3" stroke="#f272ec" stroke-width="0.5"/>
<line x1="101.50" y1="547.20" x2="101.50" y2="573.45" stroke="#fbd9f9" stroke-width="0.7" />
<line x1="101.10" y1="544.02" x2="101.10" y2="546.90" stroke="#ff2fd0" stroke-width="0.5" />
<rect x="103.00" y="538.14" width="3.20" height="35.31" fill="#eefcf8" stroke="#3fddb9" stroke-width="0.5"/>
<line x1="104.60" y1="538.44" x2="104.60" y2="573.45" stroke="#3fddb9" stroke-width="0.6" />
<line x1="104.60" y1="535.40" x2="104.60" y2="538.14" stroke="#28dc46" stroke-width="0.5" />
<rect x="108.60" y="560.45" width="3.20" height="13.00" fill="#f7f7f7" stroke="#505050" stroke-width="0.5"/>
<line x1="110.20" y1="560.75" x2="110.20" y2="573.45" stroke="#9a9a9a" stroke-width="0.4" />
<rect x="112.10" y="543.50" width="3.20" height="29.95" fill="#f7aef3" stroke="#f272ec" stroke-width="0.5"/>
<line x1="114.10" y1="543.80" x2="114.10" y2="573.45" stroke="#fbd9f9" stroke-width="0.7" />
<line x1="113.70" y1="540.69" x2="113.70" y2="543.50" stroke="#ff2fd0" stroke-width="0.5" />
<rect x="115.60" y="533.19" width="3.20" height="40.26" fill="#eefcf8" stroke="#3fddb9" stroke-width="0.5"/>
<line x1="117.20" y1="533.49" x2="117.20" y2="573.45" stroke="#3fddb9" stroke-width="0.6" />
<line x1="117.20" y1="528.88" x2="117.20" y2="533.19" stroke="#28dc46" stroke-width="0.5" />
<rect x="121.20" y="560.45" width="3.20" height="13.00" fill="#f7f7f7" stroke="#505050" stroke-width="0.5"/>
<line x1="122.80" y1="560.75" x2="122.80" y2="573.45" stroke="#9a9a9a" stroke-width="0.4" />
<rect x="124.70" y="541.41" width="3.20" height="32.04" fill="#f7aef3" stroke="#f272ec" stroke-width="0.5"/>
<line x1="126.70" y1="541.71" x2="126.70" y2="573.45" stroke="#fbd9f9" stroke-width="0.7" />
<line x1="126.30" y1="538.63" x2="126.30" y2="541.41" stroke="#ff2fd0" stroke-width="0.5" />
<rect x="128.20" y="535.24" width="3.20" height="38.21" fill="#eefcf8" stroke="#3fddb9" stroke-width="0.5"/>
<line x1="129.80" y1="535.54" x2="129.80" y2="573.45" stroke="#3fddb9" stroke-width="0.6" />
<line x1="129.80" y1="530.66" x2="129.80" y2="535.24" stroke="#28dc46" stroke-width="0.5" />
<rect x="133.80" y="560.45" width="3.20" height="13.00" fill="#f7f7f7" stroke="#505050" stroke-width="0.5"/>
<line x1="135.40" y1="560.75" x2="135.40" y2="573.45" stroke="#9a9a9a" stroke-width="0.4" />
<rect x="137.30" y="546.57" width="3.20" height="26.88" fill="#f7aef3" stroke="#f272ec" stroke-width="0.5"/>
<line x1="139.30" y1="546.87" x2="139.30" y2="573.45" stroke="#fbd9f9" stroke-width="0.7" />
<line x1="138.90" y1="543.06" x2="138.90" y2="546.57" stroke="#ff2fd0" stroke-width="0.5" />
<rect x="140.80" y="536.83" width="3.20" height="36.62" fill="#eefcf8" stroke="#3fddb9" stroke-width="0.5"/>
<line x1="142.40" y1="537.13" x2="142.40" y2="573.45" stroke="#3fddb9" stroke-width="0.6" />
<line x1="142.40" y1="533.31" x2="142.40" y2="536.83" stroke="#28dc46" stroke-width="0.5" />
<rect x="146.40" y="560.45" width="3.20" height="13.00" fill="#f7f7f7" stroke="#505050" stroke-width="0.5"/>
<line x1="148.00" y1="560.75" x2="148.00" y2="573.45" stroke="#9a9a9a" stroke-width="0.4" />
<rect x="149.90" y="547.91" width="3.20" height="25.54" fill="#f7aef3" stroke="#f272ec" stroke-width="0.5"/>
<line x1="151.90" y1="548.21" x2="151.90" y2="573.45" stroke="#fbd9f9" stroke-width="0.7" />
<line x1="151.50" y1="545.30" x2="151.50" y2="547.91" stroke="#ff2fd0" stroke-width="0.5" />
<rect x="153.40" y="537.18" width="3.20" height="36.27" fill="#eefcf8" stroke="#3fddb9" stroke-width="0.5"/>
<line x1="155.00" y1="537.48" x2="155.00" y2="573.45" stroke="#3fddb9" stroke-width="0.6" />
<line x1="155.00" y1="532.50" x2="155.00" y2="537.18" stroke="#28dc46" stroke-width="0.5" />
<line x1="32.00" y1="549.50" x2="156.40" y2="549.50" stroke="#707070" stroke-width="0.7" stroke-dasharray="1 1"/>
<path d="M63.40,552.40 L63.40,521.80 L67.00,521.80 L67.00,549.50" fill="none" stroke="#2a2a2a" stroke-width="0.65"/>
<text x="64.10" y="523" font-size="5.0" font-weight="bold" fill="#111" textLength="2.20" lengthAdjust="spacing">*</text>
<path d="M59.90,558.90 L59.90,504.00 L66.70,504.00 L66.70,515.50" fill="none" stroke="#2a2a2a" stroke-width="0.65"/>
<text x="58.90" y="505" font-size="5.0" font-weight="bold" fill="#111" textLength="8.80" lengthAdjust="spacing">****</text>
<path d="M75.50,549.50 L75.50,521.80 L79.50,521.80 L79.50,546.00" fill="none" stroke="#2a2a2a" stroke-width="0.65"/>
<text x="76.40" y="523" font-size="5.0" font-weight="bold" fill="#111" textLength="2.20" lengthAdjust="spacing">*</text>
<path d="M72.30,558.90 L72.30,513.00 L79.10,513.00 L79.10,515.50" fill="none" stroke="#2a2a2a" stroke-width="0.65"/>
<text x="71.30" y="514" font-size="5.0" font-weight="bold" fill="#111" textLength="8.80" lengthAdjust="spacing">****</text>
<path d="M84.90,557.40 L84.90,521.80 L92.30,521.80 L92.30,535.20" fill="none" stroke="#2a2a2a" stroke-width="0.65"/>
<text x="84.20" y="523" font-size="5.0" font-weight="bold" fill="#111" textLength="8.80" lengthAdjust="spacing">****</text>
<path d="M88.50,515.50 L88.50,513.00 L92.00,513.00 L92.00,515.50" fill="none" stroke="#2a2a2a" stroke-width="0.65"/>
<text x="85.85" y="514" font-size="5.0" font-weight="bold" fill="#111" textLength="8.80" lengthAdjust="spacing">****</text>
<path d="M101.10,540.90 L101.10,521.80 L104.70,521.80 L104.70,533.00" fill="none" stroke="#2a2a2a" stroke-width="0.65"/>
<text x="98.50" y="523" font-size="5.0" font-weight="bold" fill="#111" textLength="8.80" lengthAdjust="spacing">****</text>
<path d="M97.50,506.70 L97.50,504.00 L101.10,504.00 L101.10,515.50" fill="none" stroke="#2a2a2a" stroke-width="0.65"/>
<text x="94.90" y="505" font-size="5.0" font-weight="bold" fill="#111" textLength="8.80" lengthAdjust="spacing">****</text>
<path d="M97.50,498.50 L97.50,486.70 L104.40,486.70 L104.40,489.70" fill="none" stroke="#2a2a2a" stroke-width="0.65"/>
<text x="96.55" y="488" font-size="5.0" font-weight="bold" fill="#111" textLength="8.80" lengthAdjust="spacing">****</text>
<path d="M113.70,538.80 L113.70,513.00 L117.40,513.00 L117.40,525.00" fill="none" stroke="#2a2a2a" stroke-width="0.65"/>
<text x="111.15" y="514" font-size="5.0" font-weight="bold" fill="#111" textLength="8.80" lengthAdjust="spacing">****</text>
<path d="M110.40,506.70 L110.40,495.20 L113.70,495.20 L113.70,506.70" fill="none" stroke="#2a2a2a" stroke-width="0.65"/>
<text x="107.65" y="496" font-size="5.0" font-weight="bold" fill="#111" textLength="8.80" lengthAdjust="spacing">****</text>
<path d="M110.40,489.50 L110.40,478.10 L117.40,478.10 L117.40,489.50" fill="none" stroke="#2a2a2a" stroke-width="0.65"/>
<text x="109.50" y="479" font-size="5.0" font-weight="bold" fill="#111" textLength="8.80" lengthAdjust="spacing">****</text>
<path d="M122.90,506.70 L122.90,504.00 L126.40,504.00 L126.40,535.90" fill="none" stroke="#2a2a2a" stroke-width="0.65"/>
<text x="120.25" y="505" font-size="5.0" font-weight="bold" fill="#111" textLength="8.80" lengthAdjust="spacing">****</text>
<path d="M126.40,497.90 L126.40,495.20 L129.70,495.20 L129.70,497.90" fill="none" stroke="#2a2a2a" stroke-width="0.65"/>
<text x="123.65" y="496" font-size="5.0" font-weight="bold" fill="#111" textLength="8.80" lengthAdjust="spacing">****</text>
<path d="M122.90,489.50 L122.90,469.70 L129.70,469.70 L129.70,489.50" fill="none" stroke="#2a2a2a" stroke-width="0.65"/>
<text x="121.90" y="471" font-size="5.0" font-weight="bold" fill="#111" textLength="8.80" lengthAdjust="spacing">****</text>
<path d="M135.20,556.70 L135.20,521.80 L138.70,521.80 L138.70,540.90" fill="none" stroke="#2a2a2a" stroke-width="0.65"/>
<text x="132.55" y="523" font-size="5.0" font-weight="bold" fill="#111" textLength="8.80" lengthAdjust="spacing">****</text>
<path d="M138.70,515.50 L138.70,504.00 L142.30,504.00 L142.30,507.30" fill="none" stroke="#2a2a2a" stroke-width="0.65"/>
<text x="136.10" y="505" font-size="5.0" font-weight="bold" fill="#111" textLength="8.80" lengthAdjust="spacing">****</text>
<path d="M135.20,489.70 L135.20,486.70 L142.30,486.70 L142.30,498.50" fill="none" stroke="#2a2a2a" stroke-width="0.65"/>
<text x="134.35" y="488" font-size="5.0" font-weight="bold" fill="#111" textLength="8.80" lengthAdjust="spacing">****</text>
<path d="M151.60,543.00 L151.60,521.80 L155.00,521.80 L155.00,529.40" fill="none" stroke="#2a2a2a" stroke-width="0.65"/>
<text x="148.90" y="523" font-size="5.0" font-weight="bold" fill="#111" textLength="8.80" lengthAdjust="spacing">****</text>
<path d="M148.00,515.50 L148.00,513.00 L151.40,513.00 L151.40,515.50" fill="none" stroke="#2a2a2a" stroke-width="0.65"/>
<text x="145.30" y="514" font-size="5.0" font-weight="bold" fill="#111" textLength="8.80" lengthAdjust="spacing">****</text>
<path d="M148.00,497.90 L148.00,495.20 L154.90,495.20 L154.90,506.70" fill="none" stroke="#2a2a2a" stroke-width="0.65"/>
<text x="147.05" y="496" font-size="5.0" font-weight="bold" fill="#111" textLength="8.80" lengthAdjust="spacing">****</text>
<ellipse cx="34.60" cy="560.45" rx="2.35" ry="1.7" fill="#000"/>
<ellipse cx="38.10" cy="560.45" rx="1.7" ry="1.4" fill="#ff7a86" stroke="#ff2fd0" stroke-width="0.8"/>
<ellipse cx="41.60" cy="560.45" rx="1.7" ry="1.4" fill="#f6ff00" stroke="#28dc46" stroke-width="0.8"/>
<ellipse cx="47.20" cy="560.45" rx="2.35" ry="1.7" fill="#000"/>
<ellipse cx="50.70" cy="560.45" rx="1.7" ry="1.4" fill="#ff7a86" stroke="#ff2fd0" stroke-width="0.8"/>
<circle cx="54.20" cy="556.11" r="1.5" fill="#f6ff00" stroke="#28dc46" stroke-width="0.78"/>
<circle cx="54.90" cy="556.54" r="1.5" fill="#f6ff00" stroke="#28dc46" stroke-width="0.78"/>
<circle cx="54.20" cy="560.45" r="1.5" fill="#f6ff00" stroke="#28dc46" stroke-width="0.78"/>
<ellipse cx="59.80" cy="560.45" rx="2.35" ry="1.7" fill="#000"/>
<circle cx="63.30" cy="554.38" r="1.5" fill="#ff7a86" stroke="#ff2fd0" stroke-width="0.78"/>
<circle cx="63.30" cy="556.69" r="1.5" fill="#ff7a86" stroke="#ff2fd0" stroke-width="0.78"/>
<circle cx="63.30" cy="560.45" r="1.5" fill="#ff7a86" stroke="#ff2fd0" stroke-width="0.78"/>
<circle cx="66.80" cy="551.78" r="1.5" fill="#f6ff00" stroke="#28dc46" stroke-width="0.78"/>
<circle cx="67.50" cy="552.50" r="1.5" fill="#f6ff00" stroke="#28dc46" stroke-width="0.78"/>
<circle cx="66.10" cy="554.38" r="1.5" fill="#f6ff00" stroke="#28dc46" stroke-width="0.78"/>
<ellipse cx="72.40" cy="560.45" rx="2.35" ry="1.7" fill="#000"/>
<circle cx="75.90" cy="551.20" r="1.5" fill="#ff7a86" stroke="#ff2fd0" stroke-width="0.78"/>
<circle cx="75.90" cy="553.80" r="1.5" fill="#ff7a86" stroke="#ff2fd0" stroke-width="0.78"/>
<circle cx="75.90" cy="556.11" r="1.5" fill="#ff7a86" stroke="#ff2fd0" stroke-width="0.78"/>
<circle cx="79.40" cy="547.44" r="1.5" fill="#f6ff00" stroke="#28dc46" stroke-width="0.78"/>
<circle cx="79.40" cy="549.75" r="1.5" fill="#f6ff00" stroke="#28dc46" stroke-width="0.78"/>
<circle cx="79.40" cy="552.06" r="1.5" fill="#f6ff00" stroke="#28dc46" stroke-width="0.78"/>
<ellipse cx="85.00" cy="560.45" rx="2.35" ry="1.7" fill="#000"/>
<circle cx="88.50" cy="547.44" r="1.5" fill="#ff7a86" stroke="#ff2fd0" stroke-width="0.78"/>
<circle cx="88.50" cy="549.75" r="1.5" fill="#ff7a86" stroke="#ff2fd0" stroke-width="0.78"/>
<circle cx="87.80" cy="550.33" r="1.5" fill="#ff7a86" stroke="#ff2fd0" stroke-width="0.78"/>
<circle cx="88.50" cy="554.09" r="1.5" fill="#ff7a86" stroke="#ff2fd0" stroke-width="0.78"/>
<circle cx="92.00" cy="538.77" r="1.5" fill="#f6ff00" stroke="#28dc46" stroke-width="0.78"/>
<circle cx="92.00" cy="541.66" r="1.5" fill="#f6ff00" stroke="#28dc46" stroke-width="0.78"/>
<circle cx="91.30" cy="543.39" r="1.5" fill="#f6ff00" stroke="#28dc46" stroke-width="0.78"/>
<circle cx="92.00" cy="547.58" r="1.5" fill="#f6ff00" stroke="#28dc46" stroke-width="0.78"/>
<ellipse cx="97.60" cy="560.45" rx="2.35" ry="1.7" fill="#000"/>
<circle cx="101.10" cy="543.25" r="1.5" fill="#ff7a86" stroke="#ff2fd0" stroke-width="0.78"/>
<circle cx="101.10" cy="546.28" r="1.5" fill="#ff7a86" stroke="#ff2fd0" stroke-width="0.78"/>
<circle cx="100.40" cy="548.02" r="1.5" fill="#ff7a86" stroke="#ff2fd0" stroke-width="0.78"/>
<circle cx="101.80" cy="550.04" r="1.5" fill="#ff7a86" stroke="#ff2fd0" stroke-width="0.78"/>
<circle cx="104.60" cy="535.45" r="1.5" fill="#f6ff00" stroke="#28dc46" stroke-width="0.78"/>
<circle cx="104.60" cy="538.05" r="1.5" fill="#f6ff00" stroke="#28dc46" stroke-width="0.78"/>
<circle cx="104.60" cy="540.94" r="1.5" fill="#f6ff00" stroke="#28dc46" stroke-width="0.78"/>
<ellipse cx="110.20" cy="560.45" rx="2.35" ry="1.7" fill="#000"/>
<circle cx="113.70" cy="540.79" r="1.5" fill="#ff7a86" stroke="#ff2fd0" stroke-width="0.78"/>
<circle cx="114.40" cy="542.67" r="1.5" fill="#ff7a86" stroke="#ff2fd0" stroke-width="0.78"/>
<circle cx="113.00" cy="543.11" r="1.5" fill="#ff7a86" stroke="#ff2fd0" stroke-width="0.78"/>
<circle cx="113.70" cy="547.44" r="1.5" fill="#ff7a86" stroke="#ff2fd0" stroke-width="0.78"/>
<circle cx="117.20" cy="527.93" r="1.5" fill="#f6ff00" stroke="#28dc46" stroke-width="0.78"/>
<circle cx="117.20" cy="530.53" r="1.5" fill="#f6ff00" stroke="#28dc46" stroke-width="0.78"/>
<circle cx="116.50" cy="532.56" r="1.5" fill="#f6ff00" stroke="#28dc46" stroke-width="0.78"/>
<circle cx="117.20" cy="536.31" r="1.5" fill="#f6ff00" stroke="#28dc46" stroke-width="0.78"/>
<circle cx="117.20" cy="538.63" r="1.5" fill="#f6ff00" stroke="#28dc46" stroke-width="0.78"/>
<ellipse cx="122.80" cy="560.45" rx="2.35" ry="1.7" fill="#000"/>
<circle cx="126.30" cy="538.63" r="1.5" fill="#ff7a86" stroke="#ff2fd0" stroke-width="0.78"/>
<circle cx="127.00" cy="540.22" r="1.5" fill="#ff7a86" stroke="#ff2fd0" stroke-width="0.78"/>
<circle cx="125.60" cy="541.66" r="1.5" fill="#ff7a86" stroke="#ff2fd0" stroke-width="0.78"/>
<circle cx="126.30" cy="545.13" r="1.5" fill="#ff7a86" stroke="#ff2fd0" stroke-width="0.78"/>
<circle cx="129.80" cy="530.10" r="1.5" fill="#f6ff00" stroke="#28dc46" stroke-width="0.78"/>
<circle cx="130.50" cy="532.27" r="1.5" fill="#f6ff00" stroke="#28dc46" stroke-width="0.78"/>
<circle cx="129.10" cy="534.00" r="1.5" fill="#f6ff00" stroke="#28dc46" stroke-width="0.78"/>
<circle cx="129.80" cy="538.63" r="1.5" fill="#f6ff00" stroke="#28dc46" stroke-width="0.78"/>
<circle cx="129.80" cy="541.23" r="1.5" fill="#f6ff00" stroke="#28dc46" stroke-width="0.78"/>
<ellipse cx="135.40" cy="560.45" rx="2.35" ry="1.7" fill="#000"/>
<circle cx="138.90" cy="543.25" r="1.5" fill="#ff7a86" stroke="#ff2fd0" stroke-width="0.78"/>
<circle cx="139.60" cy="545.27" r="1.5" fill="#ff7a86" stroke="#ff2fd0" stroke-width="0.78"/>
<circle cx="138.20" cy="546.28" r="1.5" fill="#ff7a86" stroke="#ff2fd0" stroke-width="0.78"/>
<circle cx="138.90" cy="551.49" r="1.5" fill="#ff7a86" stroke="#ff2fd0" stroke-width="0.78"/>
<circle cx="142.40" cy="532.56" r="1.5" fill="#f6ff00" stroke="#28dc46" stroke-width="0.78"/>
<circle cx="143.10" cy="534.29" r="1.5" fill="#f6ff00" stroke="#28dc46" stroke-width="0.78"/>
<circle cx="142.40" cy="536.89" r="1.5" fill="#f6ff00" stroke="#28dc46" stroke-width="0.78"/>
<circle cx="142.40" cy="539.20" r="1.5" fill="#f6ff00" stroke="#28dc46" stroke-width="0.78"/>
<circle cx="141.70" cy="541.23" r="1.5" fill="#f6ff00" stroke="#28dc46" stroke-width="0.78"/>
<ellipse cx="148.00" cy="560.45" rx="2.35" ry="1.7" fill="#000"/>
<circle cx="151.50" cy="545.42" r="1.5" fill="#ff7a86" stroke="#ff2fd0" stroke-width="0.78"/>
<circle cx="152.20" cy="546.72" r="1.5" fill="#ff7a86" stroke="#ff2fd0" stroke-width="0.78"/>
<circle cx="150.80" cy="548.02" r="1.5" fill="#ff7a86" stroke="#ff2fd0" stroke-width="0.78"/>
<circle cx="151.50" cy="551.49" r="1.5" fill="#ff7a86" stroke="#ff2fd0" stroke-width="0.78"/>
<circle cx="155.00" cy="532.27" r="1.5" fill="#f6ff00" stroke="#28dc46" stroke-width="0.78"/>
<circle cx="155.00" cy="535.16" r="1.5" fill="#f6ff00" stroke="#28dc46" stroke-width="0.78"/>
<circle cx="155.00" cy="538.05" r="1.5" fill="#f6ff00" stroke="#28dc46" stroke-width="0.78"/>
<circle cx="155.00" cy="543.25" r="1.5" fill="#f6ff00" stroke="#28dc46" stroke-width="0.78"/>
<line x1="31.50" y1="515.35" x2="31.50" y2="573.85" stroke="#606060" stroke-width="0.9" />
<line x1="31.10" y1="573.45" x2="156.40" y2="573.45" stroke="#555" stroke-width="0.9" />
<line x1="29.20" y1="573.45" x2="31.50" y2="573.45" stroke="#222" stroke-width="0.7" />
<text x="28.30" y="575.35" font-size="5.3" font-weight="bold" text-anchor="end" fill="#111" stroke="#111" stroke-width="0.18" >0</text>
<line x1="29.20" y1="559.00" x2="31.50" y2="559.00" stroke="#222" stroke-width="0.7" />
<text x="28.30" y="560.90" font-size="5.3" font-weight="bold" text-anchor="end" fill="#111" stroke="#111" stroke-width="0.18" >1</text>
<line x1="29.20" y1="544.55" x2="31.50" y2="544.55" stroke="#222" stroke-width="0.7" />
<text x="28.30" y="546.45" font-size="5.3" font-weight="bold" text-anchor="end" fill="#111" stroke="#111" stroke-width="0.18" >2</text>
<line x1="29.20" y1="530.10" x2="31.50" y2="530.10" stroke="#222" stroke-width="0.7" />
<text x="28.30" y="532.00" font-size="5.3" font-weight="bold" text-anchor="end" fill="#111" stroke="#111" stroke-width="0.18" >3</text>
<line x1="29.20" y1="515.65" x2="31.50" y2="515.65" stroke="#222" stroke-width="0.7" />
<text x="28.30" y="517.55" font-size="5.3" font-weight="bold" text-anchor="end" fill="#111" stroke="#111" stroke-width="0.18" >4</text>
<line x1="38.20" y1="573.45" x2="38.20" y2="575.65" stroke="#222" stroke-width="0.7" />
<text x="38.20" y="580.40" font-size="5.0" font-weight="bold" text-anchor="middle" fill="#111" stroke="#111" stroke-width="0.18" >0</text>
<line x1="50.80" y1="573.45" x2="50.80" y2="575.65" stroke="#222" stroke-width="0.7" />
<text x="50.80" y="580.40" font-size="5.0" font-weight="bold" text-anchor="middle" fill="#111" stroke="#111" stroke-width="0.18" >7</text>
<line x1="63.40" y1="573.45" x2="63.40" y2="575.65" stroke="#222" stroke-width="0.7" />
<text x="63.40" y="580.40" font-size="5.0" font-weight="bold" text-anchor="middle" fill="#111" stroke="#111" stroke-width="0.18" >14</text>
<line x1="76.00" y1="573.45" x2="76.00" y2="575.65" stroke="#222" stroke-width="0.7" />
<text x="76.00" y="580.40" font-size="5.0" font-weight="bold" text-anchor="middle" fill="#111" stroke="#111" stroke-width="0.18" >21</text>
<line x1="88.60" y1="573.45" x2="88.60" y2="575.65" stroke="#222" stroke-width="0.7" />
<text x="88.60" y="580.40" font-size="5.0" font-weight="bold" text-anchor="middle" fill="#111" stroke="#111" stroke-width="0.18" >28</text>
<line x1="101.20" y1="573.45" x2="101.20" y2="575.65" stroke="#222" stroke-width="0.7" />
<text x="101.20" y="580.40" font-size="5.0" font-weight="bold" text-anchor="middle" fill="#111" stroke="#111" stroke-width="0.18" >35</text>
<line x1="113.80" y1="573.45" x2="113.80" y2="575.65" stroke="#222" stroke-width="0.7" />
<text x="113.80" y="580.40" font-size="5.0" font-weight="bold" text-anchor="middle" fill="#111" stroke="#111" stroke-width="0.18" >42</text>
<line x1="126.40" y1="573.45" x2="126.40" y2="575.65" stroke="#222" stroke-width="0.7" />
<text x="126.40" y="580.40" font-size="5.0" font-weight="bold" text-anchor="middle" fill="#111" stroke="#111" stroke-width="0.18" >56</text>
<line x1="139.00" y1="573.45" x2="139.00" y2="575.65" stroke="#222" stroke-width="0.7" />
<text x="139.00" y="580.40" font-size="5.0" font-weight="bold" text-anchor="middle" fill="#111" stroke="#111" stroke-width="0.18" >70</text>
<line x1="151.60" y1="573.45" x2="151.60" y2="575.65" stroke="#222" stroke-width="0.7" />
<text x="151.60" y="580.40" font-size="5.0" font-weight="bold" text-anchor="middle" fill="#111" stroke="#111" stroke-width="0.18" >84</text>
<text transform="translate(22.30,566.20) rotate(-90)" font-size="5.9" font-weight="bold" fill="#111" stroke="#111" stroke-width="0.28" textLength="43.20" lengthAdjust="spacingAndGlyphs">VN titers (Log<tspan font-size="3.8" dy="1">10</tspan><tspan dy="-1">)</tspan></text>
<text x="54.90" y="587.46" font-size="6.0" font-weight="bold" text-anchor="start" fill="#111" stroke="#111" stroke-width="0.18" textLength="79.10" lengthAdjust="spacingAndGlyphs" >Days post vaccination (dpv)</text>
<circle cx="167" cy="519.8" r="1.7" fill="#000"/>
<text x="174.20" y="521.77" font-size="5.2" font-weight="bold" text-anchor="start" fill="#111" stroke="#111" stroke-width="0.18" textLength="52.18" lengthAdjust="spacingAndGlyphs" >Negative control (NC)</text>
<circle cx="167" cy="527.3" r="1.5" fill="#ff7a86" stroke="#ff2fd0" stroke-width="0.78"/>
<text x="174.20" y="529.27" font-size="5.2" font-weight="bold" text-anchor="start" fill="#111" stroke="#111" stroke-width="0.18" textLength="50.57" lengthAdjust="spacingAndGlyphs" >Positive control (PC)</text>
<circle cx="167" cy="535.1" r="1.5" fill="#f6ff00" stroke="#28dc46" stroke-width="0.78"/>
<text x="174.20" y="537.07" font-size="5.2" font-weight="bold" text-anchor="start" fill="#111" stroke="#111" stroke-width="0.18" textLength="89.50" lengthAdjust="spacingAndGlyphs" >Experimental (Exp., PC+Zinc sulfate)</text>
<text x="285.10" y="453.80" font-size="9.3" font-weight="bold" text-anchor="start" fill="#111" stroke="#111" stroke-width="0.18" >(E)</text>
<text x="348.40" y="462.75" font-size="6.8" font-weight="bold" text-anchor="start" fill="#111" stroke="#111" stroke-width="0.18" textLength="56.70" lengthAdjust="spacingAndGlyphs" >VN titers for A YC</text>
<rect x="313.00" y="560.45" width="3.20" height="13.00" fill="#f7f7f7" stroke="#505050" stroke-width="0.5"/>
<line x1="314.60" y1="560.75" x2="314.60" y2="573.45" stroke="#9a9a9a" stroke-width="0.4" />
<rect x="316.50" y="560.45" width="3.20" height="13.00" fill="#f7aef3" stroke="#f272ec" stroke-width="0.5"/>
<line x1="318.50" y1="560.75" x2="318.50" y2="573.45" stroke="#fbd9f9" stroke-width="0.7" />
<rect x="320.00" y="560.45" width="3.20" height="13.00" fill="#eefcf8" stroke="#3fddb9" stroke-width="0.5"/>
<line x1="321.60" y1="560.75" x2="321.60" y2="573.45" stroke="#3fddb9" stroke-width="0.6" />
<rect x="325.60" y="560.45" width="3.20" height="13.00" fill="#f7f7f7" stroke="#505050" stroke-width="0.5"/>
<line x1="327.20" y1="560.75" x2="327.20" y2="573.45" stroke="#9a9a9a" stroke-width="0.4" />
<rect x="329.10" y="560.45" width="3.20" height="13.00" fill="#f7aef3" stroke="#f272ec" stroke-width="0.5"/>
<line x1="331.10" y1="560.75" x2="331.10" y2="573.45" stroke="#fbd9f9" stroke-width="0.7" />
<rect x="332.60" y="560.45" width="3.20" height="13.00" fill="#eefcf8" stroke="#3fddb9" stroke-width="0.5"/>
<line x1="334.20" y1="560.75" x2="334.20" y2="573.45" stroke="#3fddb9" stroke-width="0.6" />
<rect x="338.20" y="560.45" width="3.20" height="13.00" fill="#f7f7f7" stroke="#505050" stroke-width="0.5"/>
<line x1="339.80" y1="560.75" x2="339.80" y2="573.45" stroke="#9a9a9a" stroke-width="0.4" />
<rect x="341.70" y="558.35" width="3.20" height="15.10" fill="#f7aef3" stroke="#f272ec" stroke-width="0.5"/>
<line x1="343.70" y1="558.65" x2="343.70" y2="573.45" stroke="#fbd9f9" stroke-width="0.7" />
<line x1="343.30" y1="555.93" x2="343.30" y2="558.35" stroke="#ff2fd0" stroke-width="0.5" />
<rect x="345.20" y="555.05" width="3.20" height="18.40" fill="#eefcf8" stroke="#3fddb9" stroke-width="0.5"/>
<line x1="346.80" y1="555.35" x2="346.80" y2="573.45" stroke="#3fddb9" stroke-width="0.6" />
<line x1="346.80" y1="553.85" x2="346.80" y2="555.05" stroke="#28dc46" stroke-width="0.5" />
<rect x="350.80" y="560.45" width="3.20" height="13.00" fill="#f7f7f7" stroke="#505050" stroke-width="0.5"/>
<line x1="352.40" y1="560.75" x2="352.40" y2="573.45" stroke="#9a9a9a" stroke-width="0.4" />
<rect x="354.30" y="555.05" width="3.20" height="18.40" fill="#f7aef3" stroke="#f272ec" stroke-width="0.5"/>
<line x1="356.30" y1="555.35" x2="356.30" y2="573.45" stroke="#fbd9f9" stroke-width="0.7" />
<line x1="355.90" y1="553.85" x2="355.90" y2="555.05" stroke="#ff2fd0" stroke-width="0.5" />
<rect x="357.80" y="549.90" width="3.20" height="23.55" fill="#eefcf8" stroke="#3fddb9" stroke-width="0.5"/>
<line x1="359.40" y1="550.20" x2="359.40" y2="573.45" stroke="#3fddb9" stroke-width="0.6" />
<line x1="359.40" y1="547.65" x2="359.40" y2="549.90" stroke="#28dc46" stroke-width="0.5" />
<rect x="363.40" y="560.45" width="3.20" height="13.00" fill="#f7f7f7" stroke="#505050" stroke-width="0.5"/>
<line x1="365.00" y1="560.75" x2="365.00" y2="573.45" stroke="#9a9a9a" stroke-width="0.4" />
<rect x="366.90" y="550.28" width="3.20" height="23.17" fill="#f7aef3" stroke="#f272ec" stroke-width="0.5"/>
<line x1="368.90" y1="550.58" x2="368.90" y2="573.45" stroke="#fbd9f9" stroke-width="0.7" />
<line x1="368.50" y1="549.34" x2="368.50" y2="550.28" stroke="#ff2fd0" stroke-width="0.5" />
<rect x="370.40" y="544.66" width="3.20" height="28.79" fill="#eefcf8" stroke="#3fddb9" stroke-width="0.5"/>
<line x1="372.00" y1="544.96" x2="372.00" y2="573.45" stroke="#3fddb9" stroke-width="0.6" />
<line x1="372.00" y1="542.15" x2="372.00" y2="544.66" stroke="#28dc46" stroke-width="0.5" />
<rect x="376.00" y="560.45" width="3.20" height="13.00" fill="#f7f7f7" stroke="#505050" stroke-width="0.5"/>
<line x1="377.60" y1="560.75" x2="377.60" y2="573.45" stroke="#9a9a9a" stroke-width="0.4" />
<rect x="379.50" y="547.62" width="3.20" height="25.83" fill="#f7aef3" stroke="#f272ec" stroke-width="0.5"/>
<line x1="381.50" y1="547.92" x2="381.50" y2="573.45" stroke="#fbd9f9" stroke-width="0.7" />
<line x1="381.10" y1="545.70" x2="381.10" y2="547.62" stroke="#ff2fd0" stroke-width="0.5" />
<rect x="383.00" y="536.46" width="3.20" height="36.99" fill="#eefcf8" stroke="#3fddb9" stroke-width="0.5"/>
<line x1="384.60" y1="536.76" x2="384.60" y2="573.45" stroke="#3fddb9" stroke-width="0.6" />
<line x1="384.60" y1="532.79" x2="384.60" y2="536.46" stroke="#28dc46" stroke-width="0.5" />
<rect x="388.60" y="560.45" width="3.20" height="13.00" fill="#f7f7f7" stroke="#505050" stroke-width="0.5"/>
<line x1="390.20" y1="560.75" x2="390.20" y2="573.45" stroke="#9a9a9a" stroke-width="0.4" />
<rect x="392.10" y="539.42" width="3.20" height="34.03" fill="#f7aef3" stroke="#f272ec" stroke-width="0.5"/>
<line x1="394.10" y1="539.72" x2="394.10" y2="573.45" stroke="#fbd9f9" stroke-width="0.7" />
<line x1="393.70" y1="535.85" x2="393.70" y2="539.42" stroke="#ff2fd0" stroke-width="0.5" />
<rect x="395.60" y="535.41" width="3.20" height="38.04" fill="#eefcf8" stroke="#3fddb9" stroke-width="0.5"/>
<line x1="397.20" y1="535.71" x2="397.20" y2="573.45" stroke="#3fddb9" stroke-width="0.6" />
<line x1="397.20" y1="530.05" x2="397.20" y2="535.41" stroke="#28dc46" stroke-width="0.5" />
<rect x="401.20" y="560.45" width="3.20" height="13.00" fill="#f7f7f7" stroke="#505050" stroke-width="0.5"/>
<line x1="402.80" y1="560.75" x2="402.80" y2="573.45" stroke="#9a9a9a" stroke-width="0.4" />
<rect x="404.70" y="538.66" width="3.20" height="34.79" fill="#f7aef3" stroke="#f272ec" stroke-width="0.5"/>
<line x1="406.70" y1="538.96" x2="406.70" y2="573.45" stroke="#fbd9f9" stroke-width="0.7" />
<line x1="406.30" y1="535.95" x2="406.30" y2="538.66" stroke="#ff2fd0" stroke-width="0.5" />
<rect x="408.20" y="533.25" width="3.20" height="40.20" fill="#eefcf8" stroke="#3fddb9" stroke-width="0.5"/>
<line x1="409.80" y1="533.55" x2="409.80" y2="573.45" stroke="#3fddb9" stroke-width="0.6" />
<line x1="409.80" y1="528.75" x2="409.80" y2="533.25" stroke="#28dc46" stroke-width="0.5" />
<rect x="413.80" y="560.45" width="3.20" height="13.00" fill="#f7f7f7" stroke="#505050" stroke-width="0.5"/>
<line x1="415.40" y1="560.75" x2="415.40" y2="573.45" stroke="#9a9a9a" stroke-width="0.4" />
<rect x="417.30" y="541.55" width="3.20" height="31.90" fill="#f7aef3" stroke="#f272ec" stroke-width="0.5"/>
<line x1="419.30" y1="541.85" x2="419.30" y2="573.45" stroke="#fbd9f9" stroke-width="0.7" />
<line x1="418.90" y1="538.81" x2="418.90" y2="541.55" stroke="#ff2fd0" stroke-width="0.5" />
<rect x="420.80" y="534.25" width="3.20" height="39.20" fill="#eefcf8" stroke="#3fddb9" stroke-width="0.5"/>
<line x1="422.40" y1="534.55" x2="422.40" y2="573.45" stroke="#3fddb9" stroke-width="0.6" />
<line x1="422.40" y1="529.48" x2="422.40" y2="534.25" stroke="#28dc46" stroke-width="0.5" />
<rect x="426.40" y="560.45" width="3.20" height="13.00" fill="#f7f7f7" stroke="#505050" stroke-width="0.5"/>
<line x1="428.00" y1="560.75" x2="428.00" y2="573.45" stroke="#9a9a9a" stroke-width="0.4" />
<rect x="429.90" y="547.04" width="3.20" height="26.41" fill="#f7aef3" stroke="#f272ec" stroke-width="0.5"/>
<line x1="431.90" y1="547.34" x2="431.90" y2="573.45" stroke="#fbd9f9" stroke-width="0.7" />
<line x1="431.50" y1="543.37" x2="431.50" y2="547.04" stroke="#ff2fd0" stroke-width="0.5" />
<rect x="433.40" y="538.65" width="3.20" height="34.80" fill="#eefcf8" stroke="#3fddb9" stroke-width="0.5"/>
<line x1="435.00" y1="538.95" x2="435.00" y2="573.45" stroke="#3fddb9" stroke-width="0.6" />
<line x1="435.00" y1="532.64" x2="435.00" y2="538.65" stroke="#28dc46" stroke-width="0.5" />
<line x1="312.00" y1="549.50" x2="436.60" y2="549.50" stroke="#707070" stroke-width="0.7" stroke-dasharray="1 1"/>
<path d="M343.40,553.90 L343.40,521.80 L347.00,521.80 L347.00,552.40" fill="none" stroke="#2a2a2a" stroke-width="0.65"/>
<text x="344.10" y="523" font-size="5.0" font-weight="bold" fill="#111" textLength="2.20" lengthAdjust="spacing">*</text>
<path d="M340.10,558.90 L340.10,513.00 L347.00,513.00 L347.00,515.50" fill="none" stroke="#2a2a2a" stroke-width="0.65"/>
<text x="340.25" y="514" font-size="5.0" font-weight="bold" fill="#111" textLength="6.60" lengthAdjust="spacing">***</text>
<path d="M352.90,558.90 L352.90,521.80 L356.40,521.80 L356.40,552.40" fill="none" stroke="#2a2a2a" stroke-width="0.65"/>
<text x="351.35" y="523" font-size="5.0" font-weight="bold" fill="#111" textLength="6.60" lengthAdjust="spacing">***</text>
<path d="M356.40,515.50 L356.40,513.00 L359.50,513.00 L359.50,515.50" fill="none" stroke="#2a2a2a" stroke-width="0.65"/>
<text x="355.75" y="514" font-size="5.0" font-weight="bold" fill="#111" textLength="4.40" lengthAdjust="spacing">**</text>
<path d="M352.50,507.30 L352.50,504.20 L359.70,504.20 L359.70,507.30" fill="none" stroke="#2a2a2a" stroke-width="0.65"/>
<text x="351.70" y="505" font-size="5.0" font-weight="bold" fill="#111" textLength="8.80" lengthAdjust="spacing">****</text>
<path d="M365.40,558.50 L365.40,521.80 L369.00,521.80 L369.00,548.00" fill="none" stroke="#2a2a2a" stroke-width="0.65"/>
<text x="362.80" y="523" font-size="5.0" font-weight="bold" fill="#111" textLength="8.80" lengthAdjust="spacing">****</text>
<path d="M368.70,515.50 L368.70,513.00 L372.30,513.00 L372.30,515.50" fill="none" stroke="#2a2a2a" stroke-width="0.65"/>
<text x="366.10" y="514" font-size="5.0" font-weight="bold" fill="#111" textLength="8.80" lengthAdjust="spacing">****</text>
<path d="M365.40,507.30 L365.40,495.40 L372.30,495.40 L372.30,498.50" fill="none" stroke="#2a2a2a" stroke-width="0.65"/>
<text x="364.45" y="496" font-size="5.0" font-weight="bold" fill="#111" textLength="8.80" lengthAdjust="spacing">****</text>
<path d="M381.40,543.80 L381.40,521.80 L384.70,521.80 L384.70,529.40" fill="none" stroke="#2a2a2a" stroke-width="0.65"/>
<text x="378.65" y="523" font-size="5.0" font-weight="bold" fill="#111" textLength="8.80" lengthAdjust="spacing">****</text>
<path d="M378.00,507.30 L378.00,504.20 L381.40,504.20 L381.40,515.50" fill="none" stroke="#2a2a2a" stroke-width="0.65"/>
<text x="375.30" y="505" font-size="5.0" font-weight="bold" fill="#111" textLength="8.80" lengthAdjust="spacing">****</text>
<path d="M378.00,498.50 L378.00,486.70 L384.70,486.70 L384.70,498.50" fill="none" stroke="#2a2a2a" stroke-width="0.65"/>
<text x="376.95" y="488" font-size="5.0" font-weight="bold" fill="#111" textLength="8.80" lengthAdjust="spacing">****</text>
<path d="M393.70,533.00 L393.70,521.80 L397.40,521.80 L397.40,528.00" fill="none" stroke="#2a2a2a" stroke-width="0.65"/>
<text x="392.25" y="523" font-size="5.0" font-weight="bold" fill="#111" textLength="6.60" lengthAdjust="spacing">***</text>
<path d="M390.40,515.50 L390.40,513.00 L393.70,513.00 L393.70,515.50" fill="none" stroke="#2a2a2a" stroke-width="0.65"/>
<text x="387.65" y="514" font-size="5.0" font-weight="bold" fill="#111" textLength="8.80" lengthAdjust="spacing">****</text>
<path d="M390.40,506.70 L390.40,495.40 L397.40,495.40 L397.40,498.50" fill="none" stroke="#2a2a2a" stroke-width="0.65"/>
<text x="389.50" y="496" font-size="5.0" font-weight="bold" fill="#111" textLength="8.80" lengthAdjust="spacing">****</text>
<path d="M406.90,533.00 L406.90,513.00 L410.20,513.00 L410.20,515.50" fill="none" stroke="#2a2a2a" stroke-width="0.65"/>
<text x="406.35" y="514" font-size="5.0" font-weight="bold" fill="#111" textLength="4.40" lengthAdjust="spacing">**</text>
<path d="M403.30,507.30 L403.30,504.20 L406.40,504.20 L406.40,507.30" fill="none" stroke="#2a2a2a" stroke-width="0.65"/>
<text x="400.45" y="505" font-size="5.0" font-weight="bold" fill="#111" textLength="8.80" lengthAdjust="spacing">****</text>
<path d="M403.30,498.50 L403.30,486.70 L410.20,486.70 L410.20,498.50" fill="none" stroke="#2a2a2a" stroke-width="0.65"/>
<text x="402.35" y="488" font-size="5.0" font-weight="bold" fill="#111" textLength="8.80" lengthAdjust="spacing">****</text>
<path d="M415.70,557.40 L415.70,521.80 L419.30,521.80 L419.30,536.60" fill="none" stroke="#2a2a2a" stroke-width="0.65"/>
<text x="413.10" y="523" font-size="5.0" font-weight="bold" fill="#111" textLength="8.80" lengthAdjust="spacing">****</text>
<path d="M419.30,515.50 L419.30,504.20 L422.90,504.20 L422.90,507.30" fill="none" stroke="#2a2a2a" stroke-width="0.65"/>
<text x="416.70" y="505" font-size="5.0" font-weight="bold" fill="#111" textLength="8.80" lengthAdjust="spacing">****</text>
<path d="M415.70,498.50 L415.70,495.40 L422.90,495.40 L422.90,498.50" fill="none" stroke="#2a2a2a" stroke-width="0.65"/>
<text x="414.90" y="496" font-size="5.0" font-weight="bold" fill="#111" textLength="8.80" lengthAdjust="spacing">****</text>
<path d="M431.90,540.90 L431.90,521.80 L435.50,521.80 L435.50,528.70" fill="none" stroke="#2a2a2a" stroke-width="0.65"/>
<text x="429.30" y="523" font-size="5.0" font-weight="bold" fill="#111" textLength="8.80" lengthAdjust="spacing">****</text>
<path d="M428.40,515.50 L428.40,513.00 L431.90,513.00 L431.90,515.50" fill="none" stroke="#2a2a2a" stroke-width="0.65"/>
<text x="425.75" y="514" font-size="5.0" font-weight="bold" fill="#111" textLength="8.80" lengthAdjust="spacing">****</text>
<path d="M428.40,498.50 L428.40,486.70 L435.50,486.70 L435.50,506.70" fill="none" stroke="#2a2a2a" stroke-width="0.65"/>
<text x="427.55" y="488" font-size="5.0" font-weight="bold" fill="#111" textLength="8.80" lengthAdjust="spacing">****</text>
<ellipse cx="314.60" cy="560.45" rx="2.35" ry="1.7" fill="#000"/>
<ellipse cx="318.10" cy="560.45" rx="1.7" ry="1.4" fill="#ff7a86" stroke="#ff2fd0" stroke-width="0.8"/>
<ellipse cx="321.60" cy="560.45" rx="1.7" ry="1.4" fill="#f6ff00" stroke="#28dc46" stroke-width="0.8"/>
<ellipse cx="327.20" cy="560.45" rx="2.35" ry="1.7" fill="#000"/>
<ellipse cx="330.70" cy="560.45" rx="1.7" ry="1.4" fill="#ff7a86" stroke="#ff2fd0" stroke-width="0.8"/>
<ellipse cx="334.20" cy="560.45" rx="1.7" ry="1.4" fill="#f6ff00" stroke="#28dc46" stroke-width="0.8"/>
<ellipse cx="339.80" cy="560.45" rx="2.35" ry="1.7" fill="#000"/>
<circle cx="343.30" cy="556.11" r="1.5" fill="#ff7a86" stroke="#ff2fd0" stroke-width="0.78"/>
<circle cx="344.00" cy="556.40" r="1.5" fill="#ff7a86" stroke="#ff2fd0" stroke-width="0.78"/>
<circle cx="343.30" cy="560.45" r="1.5" fill="#ff7a86" stroke="#ff2fd0" stroke-width="0.78"/>
<circle cx="344.00" cy="560.45" r="1.5" fill="#ff7a86" stroke="#ff2fd0" stroke-width="0.78"/>
<circle cx="346.80" cy="554.09" r="1.5" fill="#f6ff00" stroke="#28dc46" stroke-width="0.78"/>
<circle cx="347.50" cy="554.67" r="1.5" fill="#f6ff00" stroke="#28dc46" stroke-width="0.78"/>
<circle cx="346.10" cy="556.40" r="1.5" fill="#f6ff00" stroke="#28dc46" stroke-width="0.78"/>
<ellipse cx="352.40" cy="560.45" rx="2.35" ry="1.7" fill="#000"/>
<circle cx="355.90" cy="554.09" r="1.5" fill="#ff7a86" stroke="#ff2fd0" stroke-width="0.78"/>
<circle cx="356.60" cy="554.67" r="1.5" fill="#ff7a86" stroke="#ff2fd0" stroke-width="0.78"/>
<circle cx="355.20" cy="556.40" r="1.5" fill="#ff7a86" stroke="#ff2fd0" stroke-width="0.78"/>
<circle cx="359.40" cy="547.58" r="1.5" fill="#f6ff00" stroke="#28dc46" stroke-width="0.78"/>
<circle cx="359.40" cy="550.04" r="1.5" fill="#f6ff00" stroke="#28dc46" stroke-width="0.78"/>
<circle cx="358.70" cy="552.06" r="1.5" fill="#f6ff00" stroke="#28dc46" stroke-width="0.78"/>
<ellipse cx="365.00" cy="560.45" rx="2.35" ry="1.7" fill="#000"/>
<circle cx="368.50" cy="549.32" r="1.5" fill="#ff7a86" stroke="#ff2fd0" stroke-width="0.78"/>
<circle cx="369.20" cy="550.33" r="1.5" fill="#ff7a86" stroke="#ff2fd0" stroke-width="0.78"/>
<circle cx="367.80" cy="551.20" r="1.5" fill="#ff7a86" stroke="#ff2fd0" stroke-width="0.78"/>
<circle cx="372.00" cy="541.37" r="1.5" fill="#f6ff00" stroke="#28dc46" stroke-width="0.78"/>
<circle cx="372.00" cy="544.55" r="1.5" fill="#f6ff00" stroke="#28dc46" stroke-width="0.78"/>
<circle cx="371.30" cy="545.27" r="1.5" fill="#f6ff00" stroke="#28dc46" stroke-width="0.78"/>
<circle cx="372.70" cy="547.44" r="1.5" fill="#f6ff00" stroke="#28dc46" stroke-width="0.78"/>
<ellipse cx="377.60" cy="560.45" rx="2.35" ry="1.7" fill="#000"/>
<circle cx="381.10" cy="545.13" r="1.5" fill="#ff7a86" stroke="#ff2fd0" stroke-width="0.78"/>
<circle cx="381.10" cy="547.44" r="1.5" fill="#ff7a86" stroke="#ff2fd0" stroke-width="0.78"/>
<circle cx="380.40" cy="548.16" r="1.5" fill="#ff7a86" stroke="#ff2fd0" stroke-width="0.78"/>
<circle cx="381.80" cy="549.75" r="1.5" fill="#ff7a86" stroke="#ff2fd0" stroke-width="0.78"/>
<circle cx="384.60" cy="532.27" r="1.5" fill="#f6ff00" stroke="#28dc46" stroke-width="0.78"/>
<circle cx="384.60" cy="535.16" r="1.5" fill="#f6ff00" stroke="#28dc46" stroke-width="0.78"/>
<circle cx="384.60" cy="537.47" r="1.5" fill="#f6ff00" stroke="#28dc46" stroke-width="0.78"/>
<circle cx="384.60" cy="540.94" r="1.5" fill="#f6ff00" stroke="#28dc46" stroke-width="0.78"/>
<ellipse cx="390.20" cy="560.45" rx="2.35" ry="1.7" fill="#000"/>
<circle cx="393.70" cy="534.87" r="1.5" fill="#ff7a86" stroke="#ff2fd0" stroke-width="0.78"/>
<circle cx="393.70" cy="538.63" r="1.5" fill="#ff7a86" stroke="#ff2fd0" stroke-width="0.78"/>
<circle cx="393.70" cy="540.94" r="1.5" fill="#ff7a86" stroke="#ff2fd0" stroke-width="0.78"/>
<circle cx="393.70" cy="543.25" r="1.5" fill="#ff7a86" stroke="#ff2fd0" stroke-width="0.78"/>
<circle cx="397.20" cy="530.10" r="1.5" fill="#f6ff00" stroke="#28dc46" stroke-width="0.78"/>
<circle cx="397.90" cy="531.69" r="1.5" fill="#f6ff00" stroke="#28dc46" stroke-width="0.78"/>
<circle cx="397.20" cy="538.63" r="1.5" fill="#f6ff00" stroke="#28dc46" stroke-width="0.78"/>
<circle cx="397.20" cy="541.23" r="1.5" fill="#f6ff00" stroke="#28dc46" stroke-width="0.78"/>
<ellipse cx="402.80" cy="560.45" rx="2.35" ry="1.7" fill="#000"/>
<circle cx="406.30" cy="534.87" r="1.5" fill="#ff7a86" stroke="#ff2fd0" stroke-width="0.78"/>
<circle cx="406.30" cy="538.63" r="1.5" fill="#ff7a86" stroke="#ff2fd0" stroke-width="0.78"/>
<circle cx="405.60" cy="540.22" r="1.5" fill="#ff7a86" stroke="#ff2fd0" stroke-width="0.78"/>
<circle cx="407.00" cy="540.94" r="1.5" fill="#ff7a86" stroke="#ff2fd0" stroke-width="0.78"/>
<circle cx="409.80" cy="527.93" r="1.5" fill="#f6ff00" stroke="#28dc46" stroke-width="0.78"/>
<circle cx="409.80" cy="530.24" r="1.5" fill="#f6ff00" stroke="#28dc46" stroke-width="0.78"/>
<circle cx="409.80" cy="532.56" r="1.5" fill="#f6ff00" stroke="#28dc46" stroke-width="0.78"/>
<circle cx="409.80" cy="536.60" r="1.5" fill="#f6ff00" stroke="#28dc46" stroke-width="0.78"/>
<circle cx="409.80" cy="538.91" r="1.5" fill="#f6ff00" stroke="#28dc46" stroke-width="0.78"/>
<ellipse cx="415.40" cy="560.45" rx="2.35" ry="1.7" fill="#000"/>
<circle cx="418.90" cy="538.48" r="1.5" fill="#ff7a86" stroke="#ff2fd0" stroke-width="0.78"/>
<circle cx="418.90" cy="540.94" r="1.5" fill="#ff7a86" stroke="#ff2fd0" stroke-width="0.78"/>
<circle cx="418.20" cy="541.66" r="1.5" fill="#ff7a86" stroke="#ff2fd0" stroke-width="0.78"/>
<circle cx="418.90" cy="545.13" r="1.5" fill="#ff7a86" stroke="#ff2fd0" stroke-width="0.78"/>
<circle cx="422.40" cy="530.10" r="1.5" fill="#f6ff00" stroke="#28dc46" stroke-width="0.78"/>
<circle cx="423.10" cy="531.69" r="1.5" fill="#f6ff00" stroke="#28dc46" stroke-width="0.78"/>
<circle cx="422.40" cy="534.29" r="1.5" fill="#f6ff00" stroke="#28dc46" stroke-width="0.78"/>
<circle cx="422.40" cy="540.94" r="1.5" fill="#f6ff00" stroke="#28dc46" stroke-width="0.78"/>
<ellipse cx="428.00" cy="560.45" rx="2.35" ry="1.7" fill="#000"/>
<circle cx="431.50" cy="542.67" r="1.5" fill="#ff7a86" stroke="#ff2fd0" stroke-width="0.78"/>
<circle cx="431.50" cy="545.71" r="1.5" fill="#ff7a86" stroke="#ff2fd0" stroke-width="0.78"/>
<circle cx="431.50" cy="548.60" r="1.5" fill="#ff7a86" stroke="#ff2fd0" stroke-width="0.78"/>
<circle cx="431.50" cy="551.20" r="1.5" fill="#ff7a86" stroke="#ff2fd0" stroke-width="0.78"/>
<circle cx="435.00" cy="530.10" r="1.5" fill="#f6ff00" stroke="#28dc46" stroke-width="0.78"/>
<circle cx="435.00" cy="535.88" r="1.5" fill="#f6ff00" stroke="#28dc46" stroke-width="0.78"/>
<circle cx="435.00" cy="539.20" r="1.5" fill="#f6ff00" stroke="#28dc46" stroke-width="0.78"/>
<circle cx="435.00" cy="542.38" r="1.5" fill="#f6ff00" stroke="#28dc46" stroke-width="0.78"/>
<circle cx="435.00" cy="545.71" r="1.5" fill="#f6ff00" stroke="#28dc46" stroke-width="0.78"/>
<line x1="311.50" y1="515.35" x2="311.50" y2="573.85" stroke="#606060" stroke-width="0.9" />
<line x1="311.10" y1="573.45" x2="436.60" y2="573.45" stroke="#555" stroke-width="0.9" />
<line x1="309.20" y1="573.45" x2="311.50" y2="573.45" stroke="#222" stroke-width="0.7" />
<text x="308.30" y="575.35" font-size="5.3" font-weight="bold" text-anchor="end" fill="#111" stroke="#111" stroke-width="0.18" >0</text>
<line x1="309.20" y1="559.00" x2="311.50" y2="559.00" stroke="#222" stroke-width="0.7" />
<text x="308.30" y="560.90" font-size="5.3" font-weight="bold" text-anchor="end" fill="#111" stroke="#111" stroke-width="0.18" >1</text>
<line x1="309.20" y1="544.55" x2="311.50" y2="544.55" stroke="#222" stroke-width="0.7" />
<text x="308.30" y="546.45" font-size="5.3" font-weight="bold" text-anchor="end" fill="#111" stroke="#111" stroke-width="0.18" >2</text>
<line x1="309.20" y1="530.10" x2="311.50" y2="530.10" stroke="#222" stroke-width="0.7" />
<text x="308.30" y="532.00" font-size="5.3" font-weight="bold" text-anchor="end" fill="#111" stroke="#111" stroke-width="0.18" >3</text>
<line x1="309.20" y1="515.65" x2="311.50" y2="515.65" stroke="#222" stroke-width="0.7" />
<text x="308.30" y="517.55" font-size="5.3" font-weight="bold" text-anchor="end" fill="#111" stroke="#111" stroke-width="0.18" >4</text>
<line x1="318.20" y1="573.45" x2="318.20" y2="575.65" stroke="#222" stroke-width="0.7" />
<text x="318.20" y="580.40" font-size="5.0" font-weight="bold" text-anchor="middle" fill="#111" stroke="#111" stroke-width="0.18" >0</text>
<line x1="330.80" y1="573.45" x2="330.80" y2="575.65" stroke="#222" stroke-width="0.7" />
<text x="330.80" y="580.40" font-size="5.0" font-weight="bold" text-anchor="middle" fill="#111" stroke="#111" stroke-width="0.18" >7</text>
<line x1="343.40" y1="573.45" x2="343.40" y2="575.65" stroke="#222" stroke-width="0.7" />
<text x="343.40" y="580.40" font-size="5.0" font-weight="bold" text-anchor="middle" fill="#111" stroke="#111" stroke-width="0.18" >14</text>
<line x1="356.00" y1="573.45" x2="356.00" y2="575.65" stroke="#222" stroke-width="0.7" />
<text x="356.00" y="580.40" font-size="5.0" font-weight="bold" text-anchor="middle" fill="#111" stroke="#111" stroke-width="0.18" >21</text>
<line x1="368.60" y1="573.45" x2="368.60" y2="575.65" stroke="#222" stroke-width="0.7" />
<text x="368.60" y="580.40" font-size="5.0" font-weight="bold" text-anchor="middle" fill="#111" stroke="#111" stroke-width="0.18" >28</text>
<line x1="381.20" y1="573.45" x2="381.20" y2="575.65" stroke="#222" stroke-width="0.7" />
<text x="381.20" y="580.40" font-size="5.0" font-weight="bold" text-anchor="middle" fill="#111" stroke="#111" stroke-width="0.18" >35</text>
<line x1="393.80" y1="573.45" x2="393.80" y2="575.65" stroke="#222" stroke-width="0.7" />
<text x="393.80" y="580.40" font-size="5.0" font-weight="bold" text-anchor="middle" fill="#111" stroke="#111" stroke-width="0.18" >42</text>
<line x1="406.40" y1="573.45" x2="406.40" y2="575.65" stroke="#222" stroke-width="0.7" />
<text x="406.40" y="580.40" font-size="5.0" font-weight="bold" text-anchor="middle" fill="#111" stroke="#111" stroke-width="0.18" >56</text>
<line x1="419.00" y1="573.45" x2="419.00" y2="575.65" stroke="#222" stroke-width="0.7" />
<text x="419.00" y="580.40" font-size="5.0" font-weight="bold" text-anchor="middle" fill="#111" stroke="#111" stroke-width="0.18" >70</text>
<line x1="431.60" y1="573.45" x2="431.60" y2="575.65" stroke="#222" stroke-width="0.7" />
<text x="431.60" y="580.40" font-size="5.0" font-weight="bold" text-anchor="middle" fill="#111" stroke="#111" stroke-width="0.18" >84</text>
<text transform="translate(302.30,566.20) rotate(-90)" font-size="5.9" font-weight="bold" fill="#111" stroke="#111" stroke-width="0.28" textLength="43.20" lengthAdjust="spacingAndGlyphs">VN titers (Log<tspan font-size="3.8" dy="1">10</tspan><tspan dy="-1">)</tspan></text>
<text x="334.90" y="587.46" font-size="6.0" font-weight="bold" text-anchor="start" fill="#111" stroke="#111" stroke-width="0.18" textLength="79.10" lengthAdjust="spacingAndGlyphs" >Days post vaccination (dpv)</text>
<circle cx="447.9" cy="519.8" r="1.7" fill="#000"/>
<text x="455.10" y="521.77" font-size="5.2" font-weight="bold" text-anchor="start" fill="#111" stroke="#111" stroke-width="0.18" textLength="52.12" lengthAdjust="spacingAndGlyphs" >Negative control (NC)</text>
<circle cx="447.9" cy="527.3" r="1.5" fill="#ff7a86" stroke="#ff2fd0" stroke-width="0.78"/>
<text x="455.10" y="529.27" font-size="5.2" font-weight="bold" text-anchor="start" fill="#111" stroke="#111" stroke-width="0.18" textLength="50.51" lengthAdjust="spacingAndGlyphs" >Positive control (PC)</text>
<circle cx="447.9" cy="535.1" r="1.5" fill="#f6ff00" stroke="#28dc46" stroke-width="0.78"/>
<text x="455.10" y="537.07" font-size="5.2" font-weight="bold" text-anchor="start" fill="#111" stroke="#111" stroke-width="0.18" textLength="89.40" lengthAdjust="spacingAndGlyphs" >Experimental (Exp., PC+Zinc sulfate)</text>
</svg></body></html>
